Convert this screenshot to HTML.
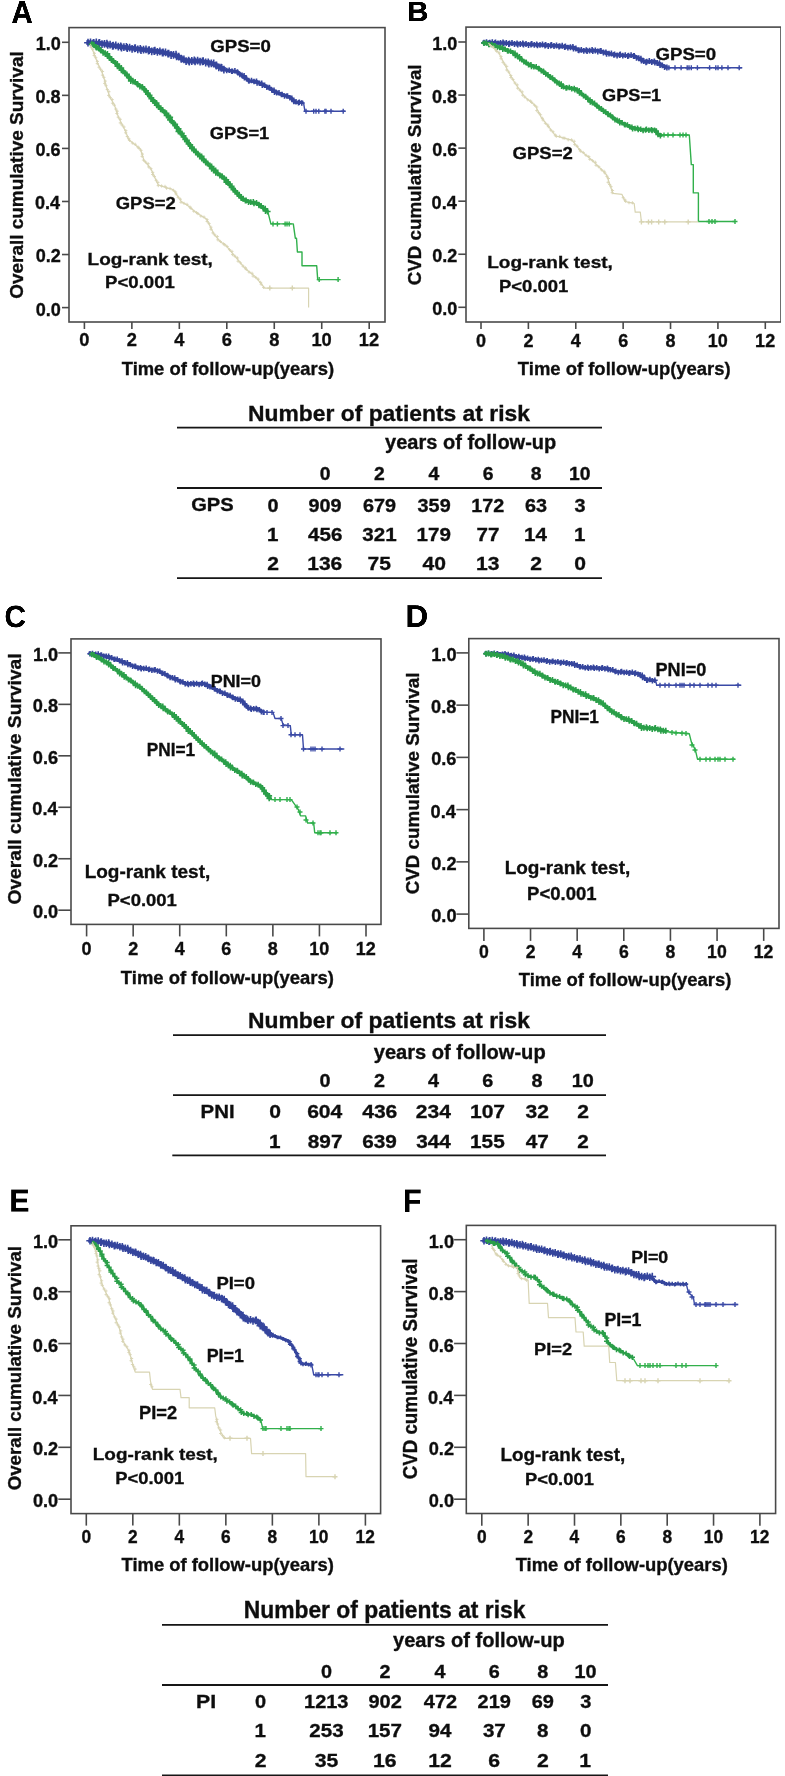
<!DOCTYPE html>
<html><head><meta charset="utf-8"><style>
html,body{margin:0;padding:0;background:#fff;overflow:hidden;}
svg{display:block;will-change:transform;}
text{font-family:"Liberation Sans",sans-serif;}
</style></head><body>
<svg width="785" height="1776" viewBox="0 0 785 1776">
<defs><filter id="soft" x="0" y="0" width="100%" height="100%"><feGaussianBlur stdDeviation="0.5"/></filter></defs>
<rect width="785" height="1776" fill="#fff"/>
<g filter="url(#soft)">
<polyline points="86.3,42.3 100.6,43.3 121.0,46.8 141.3,49.4 161.7,52.0 176.0,55.5 186.2,61.0 200.5,61.0 212.7,63.7 225.0,69.8" fill="none" stroke="#3a4aa6" stroke-width="4.800000000000001" stroke-linejoin="round" stroke-linecap="butt" opacity="1"/>
<path d="M84.1,42.7h7.8M88.0,38.8v7.8M86.6,42.3h7.8M90.5,38.4v7.8M89.1,43.3h7.8M93.0,39.4v7.8M89.9,42.9h7.8M93.8,39.0v7.8M92.4,42.4h7.8M96.3,38.5v7.8M94.9,43.4h7.8M98.8,39.5v7.8M95.6,43.0h7.8M99.5,39.1v7.8M98.1,44.2h7.8M102.0,40.3v7.8M100.6,43.9h7.8M104.5,40.0v7.8M103.0,43.7h7.8M106.9,39.8v7.8M103.8,44.9h7.8M107.7,41.0v7.8M106.2,44.6h7.8M110.1,40.7v7.8M108.7,45.9h7.8M112.6,42.0v7.8M109.4,45.6h7.8M113.3,41.7v7.8M111.9,45.3h7.8M115.8,41.4v7.8M114.4,46.6h7.8M118.3,42.7v7.8M116.8,46.3h7.8M120.7,42.4v7.8M117.6,47.5h7.8M121.5,43.6v7.8M120.0,47.2h7.8M123.9,43.3v7.8M122.5,46.8h7.8M126.4,42.9v7.8M123.3,48.0h7.8M127.2,44.1v7.8M125.7,47.6h7.8M129.6,43.7v7.8M128.2,48.8h7.8M132.1,44.9v7.8M130.7,48.4h7.8M134.6,44.5v7.8M131.4,48.1h7.8M135.3,44.2v7.8M133.9,49.3h7.8M137.8,45.4v7.8M136.4,48.9h7.8M140.3,45.0v7.8M137.1,50.1h7.8M141.0,46.2v7.8M139.6,49.7h7.8M143.5,45.8v7.8M142.1,49.4h7.8M146.0,45.5v7.8M144.6,50.5h7.8M148.5,46.6v7.8M145.3,50.2h7.8M149.2,46.3v7.8M147.8,51.3h7.8M151.7,47.4v7.8M150.3,51.0h7.8M154.2,47.1v7.8M151.0,50.6h7.8M154.9,46.7v7.8M153.5,51.8h7.8M157.4,47.9v7.8M156.0,51.4h7.8M159.9,47.5v7.8M158.5,52.6h7.8M162.4,48.7v7.8M159.2,52.5h7.8M163.1,48.6v7.8M161.6,52.3h7.8M165.5,48.4v7.8M164.1,53.7h7.8M168.0,49.8v7.8M164.8,53.6h7.8M168.7,49.7v7.8M167.2,55.0h7.8M171.1,51.1v7.8M169.6,54.8h7.8M173.5,50.9v7.8M172.1,54.7h7.8M176.0,50.8v7.8M172.7,56.4h7.8M176.6,52.5v7.8M174.9,56.7h7.8M178.8,52.8v7.8M177.2,58.6h7.8M181.1,54.7v7.8M177.7,58.9h7.8M181.6,55.0v7.8M180.0,59.3h7.8M183.9,55.4v7.8M182.2,61.1h7.8M186.1,57.2v7.8M184.7,60.7h7.8M188.6,56.8v7.8M185.4,61.6h7.8M189.3,57.7v7.8M187.9,61.0h7.8M191.8,57.1v7.8M190.4,60.4h7.8M194.3,56.5v7.8M191.2,61.3h7.8M195.1,57.4v7.8M193.7,60.7h7.8M197.6,56.8v7.8M196.2,61.6h7.8M200.1,57.7v7.8M198.6,61.3h7.8M202.5,57.4v7.8M199.3,61.1h7.8M203.2,57.2v7.8M201.8,62.5h7.8M205.7,58.6v7.8M204.3,62.3h7.8M208.2,58.4v7.8M205.0,63.6h7.8M208.9,59.7v7.8M207.4,63.4h7.8M211.3,59.5v7.8M209.8,63.5h7.8M213.7,59.6v7.8M212.1,65.3h7.8M216.0,61.4v7.8M212.6,65.5h7.8M216.5,61.6v7.8M214.9,67.3h7.8M218.8,63.4v7.8M217.2,67.6h7.8M221.1,63.7v7.8M217.8,67.9h7.8M221.7,64.0v7.8M220.0,69.7h7.8M223.9,65.8v7.8" stroke="#34449c" stroke-width="1.6" fill="none"/>
<polyline points="225.0,69.8 237.2,71.8 249.5,81.0 255.6,81.4 265.8,86.1 278.0,93.2 290.2,97.3 295.3,102.4 303.5,102.4" fill="none" stroke="#3a4aa6" stroke-width="3.3600000000000003" stroke-linejoin="round" stroke-linecap="butt" opacity="1"/>
<path d="M224.0,70.4h5.5M226.7,67.7v5.5M226.5,70.1h5.5M229.2,67.4v5.5M228.9,71.4h5.5M231.7,68.6v5.5M229.7,71.1h5.5M232.4,68.4v5.5M232.1,70.8h5.5M234.9,68.1v5.5M234.6,72.0h5.5M237.3,69.3v5.5M235.0,72.5h5.5M237.8,69.8v5.5M237.1,74.6h5.5M239.9,71.8v5.5M239.2,75.2h5.5M242.0,72.4v5.5M241.3,75.8h5.5M244.1,73.0v5.5M241.7,77.9h5.5M244.4,75.1v5.5M243.8,78.5h5.5M246.5,75.7v5.5M245.9,80.6h5.5M248.6,77.8v5.5M246.3,81.0h5.5M249.0,78.3v5.5M248.8,80.5h5.5M251.5,77.8v5.5M251.3,81.6h5.5M254.0,78.8v5.5M253.8,81.2h5.5M256.5,78.4v5.5M254.3,82.9h5.5M257.1,80.2v5.5M256.7,83.1h5.5M259.4,80.4v5.5M259.0,83.4h5.5M261.7,80.6v5.5M259.5,85.1h5.5M262.3,82.4v5.5M261.9,85.4h5.5M264.6,82.6v5.5M264.1,87.2h5.5M266.9,84.4v5.5M266.4,87.6h5.5M269.1,84.8v5.5M266.8,88.0h5.5M269.6,85.3v5.5M269.1,89.9h5.5M271.8,87.2v5.5M271.3,90.3h5.5M274.0,87.6v5.5M271.8,92.2h5.5M274.5,89.5v5.5M274.0,92.6h5.5M276.7,89.9v5.5M276.3,92.9h5.5M279.0,90.1v5.5M278.7,94.4h5.5M281.4,91.7v5.5M279.3,94.4h5.5M282.1,91.7v5.5M281.7,96.0h5.5M284.5,93.2v5.5M284.1,96.0h5.5M286.9,93.3v5.5M284.8,96.0h5.5M287.5,93.3v5.5M287.2,97.6h5.5M289.9,94.9v5.5M289.1,98.4h5.5M291.8,95.6v5.5M291.0,100.7h5.5M293.7,98.0v5.5M291.2,101.5h5.5M293.9,98.8v5.5M293.3,101.8h5.5M296.0,99.1v5.5M295.8,102.7h5.5M298.5,100.0v5.5M296.6,102.1h5.5M299.3,99.4v5.5M299.1,103.0h5.5M301.8,100.3v5.5" stroke="#34449c" stroke-width="1.6" fill="none"/>
<polyline points="303.5,102.4 304.9,111.2 345.3,111.2" fill="none" stroke="#3a4aa6" stroke-width="1.4" stroke-linejoin="round" stroke-linecap="butt" opacity="1"/>
<path d="M303.5,111.2H308.5M306.0,108.7V113.7" stroke="#3a4aa6" stroke-width="1.4" fill="none"/>
<path d="M311.2,111.2H316.2M313.7,108.7V113.7" stroke="#3a4aa6" stroke-width="1.4" fill="none"/>
<path d="M313.5,111.2H318.5M316.0,108.7V113.7" stroke="#3a4aa6" stroke-width="1.4" fill="none"/>
<path d="M316.3,111.2H321.3M318.8,108.7V113.7" stroke="#3a4aa6" stroke-width="1.4" fill="none"/>
<path d="M322.4,111.2H327.4M324.9,108.7V113.7" stroke="#3a4aa6" stroke-width="1.4" fill="none"/>
<path d="M323.5,111.2H328.5M326.0,108.7V113.7" stroke="#3a4aa6" stroke-width="1.4" fill="none"/>
<path d="M328.5,111.2H333.5M331.0,108.7V113.7" stroke="#3a4aa6" stroke-width="1.4" fill="none"/>
<path d="M340.7,111.2H345.7M343.2,108.7V113.7" stroke="#3a4aa6" stroke-width="1.4" fill="none"/>
<polyline points="90.4,42.7 106.7,54.5 123.0,70.8 131.1,80.0 143.4,88.1 155.6,103.4 167.8,115.6 180.1,132.0 192.3,148.3 204.5,160.5 216.8,172.7 225.0,179.1 235.2,191.3 243.3,199.5 251.5,202.5 257.6,203.5 267.8,211.7" fill="none" stroke="#30b04c" stroke-width="3.6" stroke-linejoin="round" stroke-linecap="butt" opacity="1"/>
<path d="M88.8,44.2h5.9M91.8,41.2v5.9M91.0,44.7h5.9M93.9,41.8v5.9M93.1,46.8h5.9M96.0,43.9v5.9M93.5,47.4h5.9M96.4,44.5v5.9M95.6,48.0h5.9M98.5,45.0v5.9M97.7,50.0h5.9M100.6,47.1v5.9M98.1,50.6h5.9M101.0,47.7v5.9M100.2,52.7h5.9M103.1,49.8v5.9M102.3,53.3h5.9M105.2,50.3v5.9M104.4,53.8h5.9M107.4,50.9v5.9M104.6,56.1h5.9M107.5,53.2v5.9M106.5,56.9h5.9M109.4,54.0v5.9M108.4,59.3h5.9M111.4,56.3v5.9M108.6,60.1h5.9M111.5,57.1v5.9M110.5,60.9h5.9M113.4,58.0v5.9M112.4,63.2h5.9M115.3,60.3v5.9M114.3,64.0h5.9M117.3,61.1v5.9M114.5,66.3h5.9M117.4,63.4v5.9M116.4,67.1h5.9M119.3,64.2v5.9M118.3,68.0h5.9M121.3,65.0v5.9M118.5,70.3h5.9M121.4,67.3v5.9M120.4,71.1h5.9M123.3,68.2v5.9M122.2,73.5h5.9M125.1,70.6v5.9M124.0,74.4h5.9M126.9,71.5v5.9M124.1,75.3h5.9M127.0,72.4v5.9M125.9,77.7h5.9M128.8,74.8v5.9M127.7,78.6h5.9M130.7,75.7v5.9M127.9,80.9h5.9M130.8,78.0v5.9M130.1,81.4h5.9M133.0,78.5v5.9M132.2,81.9h5.9M135.2,79.0v5.9M134.4,83.9h5.9M137.3,81.0v5.9M134.8,84.4h5.9M137.8,81.5v5.9M137.0,86.4h5.9M139.9,83.5v5.9M139.2,86.9h5.9M142.1,84.0v5.9M139.6,87.4h5.9M142.5,84.5v5.9M141.4,89.8h5.9M144.3,86.9v5.9M143.1,90.8h5.9M146.0,87.9v5.9M144.9,93.3h5.9M147.8,90.3v5.9M144.9,94.2h5.9M147.8,91.3v5.9M146.6,95.2h5.9M149.5,92.3v5.9M148.4,97.7h5.9M151.3,94.7v5.9M148.4,98.6h5.9M151.3,95.7v5.9M150.1,101.1h5.9M153.0,98.2v5.9M151.8,102.0h5.9M154.8,99.1v5.9M153.6,103.0h5.9M156.5,100.1v5.9M153.8,105.3h5.9M156.7,102.4v5.9M155.7,106.1h5.9M158.6,103.2v5.9M157.6,108.4h5.9M160.5,105.5v5.9M157.8,109.2h5.9M160.7,106.3v5.9M159.7,110.1h5.9M162.6,107.1v5.9M161.6,112.4h5.9M164.5,109.5v5.9M163.5,113.2h5.9M166.4,110.3v5.9M163.7,115.5h5.9M166.6,112.6v5.9M165.5,116.4h5.9M168.4,113.5v5.9M167.2,117.4h5.9M170.1,114.5v5.9M167.1,119.9h5.9M170.1,117.0v5.9M168.8,120.9h5.9M171.8,118.0v5.9M170.5,123.4h5.9M173.5,120.5v5.9M172.2,124.4h5.9M175.2,121.5v5.9M172.2,125.4h5.9M175.1,122.5v5.9M173.9,127.9h5.9M176.8,125.0v5.9M175.6,128.9h5.9M178.5,126.0v5.9M175.5,131.4h5.9M178.5,128.5v5.9M177.2,132.4h5.9M180.2,129.5v5.9M178.9,133.4h5.9M181.9,130.5v5.9M180.6,135.9h5.9M183.6,133.0v5.9M180.6,136.9h5.9M183.5,134.0v5.9M182.3,139.4h5.9M185.2,136.5v5.9M184.0,140.4h5.9M186.9,137.5v5.9M183.9,141.4h5.9M186.9,138.5v5.9M185.6,143.9h5.9M188.5,141.0v5.9M187.3,144.9h5.9M190.2,142.0v5.9M189.0,147.4h5.9M191.9,144.5v5.9M189.0,148.4h5.9M191.9,145.5v5.9M190.9,149.2h5.9M193.8,146.3v5.9M192.8,151.5h5.9M195.7,148.6v5.9M193.0,152.4h5.9M195.9,149.4v5.9M194.9,154.7h5.9M197.8,151.7v5.9M196.8,155.5h5.9M199.7,152.6v5.9M198.7,156.3h5.9M201.6,153.4v5.9M198.9,158.6h5.9M201.8,155.7v5.9M200.8,159.4h5.9M203.7,156.5v5.9M202.7,161.7h5.9M205.6,158.8v5.9M202.9,162.5h5.9M205.8,159.6v5.9M204.8,163.4h5.9M207.7,160.4v5.9M206.7,165.7h5.9M209.7,162.7v5.9M208.6,166.5h5.9M211.6,163.5v5.9M208.8,168.8h5.9M211.7,165.9v5.9M210.7,169.6h5.9M213.7,166.7v5.9M212.7,170.4h5.9M215.6,167.5v5.9M212.8,172.7h5.9M215.8,169.8v5.9M214.9,173.4h5.9M217.8,170.4v5.9M216.9,175.5h5.9M219.9,172.6v5.9M219.0,176.1h5.9M221.9,173.2v5.9M219.4,176.8h5.9M222.3,173.8v5.9M221.4,178.9h5.9M224.4,176.0v5.9M223.3,179.7h5.9M226.3,176.8v5.9M223.4,182.1h5.9M226.3,179.2v5.9M225.1,183.1h5.9M228.1,180.1v5.9M226.9,184.0h5.9M229.9,181.1v5.9M228.7,186.4h5.9M231.6,183.5v5.9M228.7,187.4h5.9M231.7,184.5v5.9M230.5,189.8h5.9M233.5,186.9v5.9M232.3,190.7h5.9M235.2,187.8v5.9M232.4,191.6h5.9M235.3,188.7v5.9M234.3,193.9h5.9M237.3,191.0v5.9M236.2,194.8h5.9M239.2,191.8v5.9M238.1,197.1h5.9M241.1,194.2v5.9M238.3,197.9h5.9M241.2,195.0v5.9M240.2,198.7h5.9M243.1,195.8v5.9M242.5,200.4h5.9M245.4,197.5v5.9M243.1,200.5h5.9M246.1,197.6v5.9M245.5,202.1h5.9M248.5,199.2v5.9M247.9,202.2h5.9M250.8,199.2v5.9M250.3,202.1h5.9M253.3,199.1v5.9M251.1,203.3h5.9M254.0,200.4v5.9M253.5,203.0h5.9M256.5,200.1v5.9M255.8,204.6h5.9M258.8,201.7v5.9M256.1,205.3h5.9M259.1,202.4v5.9M258.2,205.9h5.9M261.1,203.0v5.9M260.3,208.1h5.9M263.2,205.2v5.9M262.3,208.7h5.9M265.2,205.8v5.9M262.6,210.9h5.9M265.5,208.0v5.9M264.7,211.5h5.9M267.6,208.6v5.9" stroke="#2a9e48" stroke-width="1.6" fill="none"/>
<polyline points="267.8,211.7 270.9,223.9 293.3,223.9 295.3,238.2 296.5,238.2 297.4,252.0 302.0,252.0 302.0,265.7 316.7,265.7 317.7,279.6 339.1,279.6" fill="none" stroke="#30b04c" stroke-width="1.4" stroke-linejoin="round" stroke-linecap="butt" opacity="1"/>
<path d="M270.5,223.9H275.5M273.0,221.4V226.4" stroke="#30b04c" stroke-width="1.4" fill="none"/>
<path d="M274.9,223.9H279.9M277.4,221.4V226.4" stroke="#30b04c" stroke-width="1.4" fill="none"/>
<path d="M282.6,223.9H287.6M285.1,221.4V226.4" stroke="#30b04c" stroke-width="1.4" fill="none"/>
<path d="M284.5,223.9H289.5M287.0,221.4V226.4" stroke="#30b04c" stroke-width="1.4" fill="none"/>
<path d="M286.7,223.9H291.7M289.2,221.4V226.4" stroke="#30b04c" stroke-width="1.4" fill="none"/>
<path d="M316.7,279.6H321.7M319.2,277.1V282.1" stroke="#30b04c" stroke-width="1.4" fill="none"/>
<path d="M335.6,279.6H340.6M338.1,277.1V282.1" stroke="#30b04c" stroke-width="1.4" fill="none"/>
<polyline points="90.4,44.3 98.1,64.1 103.2,75.3 107.2,89.6 110.3,97.7 114.4,104.9 118.4,117.1 122.5,125.2 125.6,131.4 128.6,139.5 140.3,149.0 144.1,160.5 150.5,168.1 158.1,184.7 163.2,186.6 173.4,189.8 181.0,201.2 188.7,206.3 196.3,212.7 206.5,219.1 214.2,234.4 220.8,242.3 225.0,244.3 235.2,256.5 245.4,268.8 255.6,276.9 264.7,288.1 308.6,288.1 308.6,307.5" fill="none" stroke="#d8d4b2" stroke-width="1.2" stroke-linejoin="round" stroke-linecap="butt" opacity="1"/>
<path d="M89.6,47.4h3.2M91.2,45.8v3.2M91.2,49.6h3.2M92.8,48.0v3.2M92.8,53.3h3.2M94.4,51.7v3.2M92.6,55.5h3.2M94.2,53.9v3.2M94.2,57.7h3.2M95.8,56.1v3.2M95.8,61.4h3.2M97.4,59.8v3.2M95.7,63.6h3.2M97.3,62.0v3.2M97.4,67.2h3.2M99.0,65.6v3.2M99.1,69.3h3.2M100.7,67.7v3.2M100.9,71.5h3.2M102.5,69.9v3.2M100.9,75.1h3.2M102.5,73.5v3.2M102.3,77.4h3.2M103.9,75.8v3.2M103.6,81.1h3.2M105.2,79.5v3.2M103.1,83.4h3.2M104.7,81.8v3.2M104.4,85.7h3.2M106.0,84.1v3.2M105.7,89.5h3.2M107.3,87.9v3.2M107.3,91.7h3.2M108.9,90.1v3.2M107.1,95.4h3.2M108.7,93.8v3.2M108.7,97.6h3.2M110.3,96.0v3.2M110.6,99.6h3.2M112.2,98.0v3.2M110.9,103.2h3.2M112.5,101.6v3.2M112.7,105.2h3.2M114.3,103.6v3.2M114.2,109.0h3.2M115.8,107.4v3.2M115.6,111.2h3.2M117.2,109.6v3.2M115.3,113.5h3.2M116.9,111.9v3.2M116.7,117.2h3.2M118.3,115.6v3.2M118.6,119.3h3.2M120.2,117.7v3.2M118.7,122.9h3.2M120.3,121.3v3.2M120.5,125.0h3.2M122.1,123.4v3.2M122.4,127.0h3.2M124.0,125.4v3.2M124.2,130.6h3.2M125.8,129.0v3.2M124.1,132.8h3.2M125.7,131.2v3.2M125.7,136.5h3.2M127.3,134.9v3.2M127.2,138.7h3.2M128.8,137.1v3.2M127.9,140.3h3.2M129.5,138.7v3.2M130.8,143.0h3.2M132.4,141.4v3.2M133.6,144.3h3.2M135.2,142.7v3.2M136.4,147.1h3.2M138.0,145.5v3.2M137.5,148.4h3.2M139.1,146.8v3.2M139.4,150.4h3.2M141.0,148.8v3.2M140.8,154.1h3.2M142.4,152.5v3.2M140.5,156.4h3.2M142.1,154.8v3.2M141.9,160.1h3.2M143.5,158.5v3.2M144.0,162.0h3.2M145.6,160.4v3.2M146.5,163.7h3.2M148.1,162.1v3.2M147.1,166.9h3.2M148.7,165.3v3.2M149.3,168.7h3.2M150.9,167.1v3.2M151.1,172.4h3.2M152.7,170.8v3.2M151.1,174.5h3.2M152.7,172.9v3.2M152.8,176.6h3.2M154.4,175.0v3.2M154.6,180.3h3.2M156.2,178.7v3.2M156.3,182.4h3.2M157.9,180.8v3.2M156.7,185.6h3.2M158.3,184.0v3.2M160.0,186.0h3.2M161.6,184.4v3.2M163.4,186.4h3.2M165.0,184.8v3.2M165.0,188.2h3.2M166.6,186.6v3.2M168.4,188.5h3.2M170.0,186.9v3.2M171.7,190.3h3.2M173.3,188.7v3.2M174.0,192.0h3.2M175.6,190.4v3.2M174.4,193.9h3.2M176.0,192.3v3.2M176.6,197.3h3.2M178.2,195.7v3.2M178.8,199.2h3.2M180.4,197.6v3.2M179.4,202.3h3.2M181.0,200.7v3.2M182.4,203.4h3.2M184.0,201.8v3.2M185.4,204.4h3.2M187.0,202.8v3.2M188.4,207.1h3.2M190.0,205.5v3.2M189.4,208.4h3.2M191.0,206.8v3.2M192.2,211.2h3.2M193.8,209.6v3.2M195.0,212.6h3.2M196.6,211.0v3.2M196.3,213.6h3.2M197.9,212.0v3.2M199.3,216.1h3.2M200.9,214.5v3.2M202.4,217.1h3.2M204.0,215.5v3.2M205.4,219.6h3.2M207.0,218.0v3.2M205.6,221.5h3.2M207.2,219.9v3.2M207.5,223.6h3.2M209.1,222.0v3.2M209.3,227.2h3.2M210.9,225.6v3.2M209.4,229.3h3.2M211.0,227.7v3.2M211.3,232.9h3.2M212.9,231.3v3.2M213.2,234.9h3.2M214.8,233.3v3.2M215.7,236.6h3.2M217.3,235.0v3.2M216.3,239.8h3.2M217.9,238.2v3.2M218.8,241.5h3.2M220.4,239.9v3.2M221.8,243.9h3.2M223.4,242.3v3.2M223.1,244.8h3.2M224.7,243.2v3.2M225.5,246.5h3.2M227.1,244.9v3.2M227.9,249.7h3.2M229.5,248.1v3.2M230.3,251.4h3.2M231.9,249.8v3.2M231.0,254.6h3.2M232.6,253.0v3.2M233.4,256.3h3.2M235.0,254.7v3.2M235.9,258.0h3.2M237.5,256.4v3.2M236.5,261.2h3.2M238.1,259.6v3.2M238.9,262.9h3.2M240.5,261.3v3.2M241.4,266.1h3.2M243.0,264.5v3.2M243.8,267.9h3.2M245.4,266.3v3.2M244.7,269.3h3.2M246.3,267.7v3.2M247.5,272.1h3.2M249.1,270.5v3.2M250.4,273.3h3.2M252.0,271.7v3.2M251.5,276.1h3.2M253.1,274.5v3.2M254.2,277.5h3.2M255.8,275.9v3.2M256.6,279.2h3.2M258.2,277.6v3.2M259.0,282.4h3.2M260.6,280.8v3.2M259.6,284.2h3.2M261.2,282.6v3.2M262.0,287.4h3.2M263.6,285.8v3.2" stroke="#d8d4b2" stroke-width="0.9" fill="none"/>
<path d="M267.3,288.1H272.3M269.8,285.6V290.6" stroke="#d8d4b2" stroke-width="1.4" fill="none"/>
<path d="M289.8,288.1H294.8M292.3,285.6V290.6" stroke="#d8d4b2" stroke-width="1.4" fill="none"/>
<rect x="69.00" y="27.60" width="316.00" height="294.40" fill="none" stroke="#4a4a4a" stroke-width="1.6"/>
<line x1="84.40" y1="322.00" x2="84.40" y2="329.00" stroke="#4a4a4a" stroke-width="1.6"/>
<text transform="translate(79.32,346.20) scale(0.18291,0.18857)" font-size="100" font-weight="bold" fill="#111" stroke="#111" stroke-width="1.88">0</text>
<line x1="131.87" y1="322.00" x2="131.87" y2="329.00" stroke="#4a4a4a" stroke-width="1.6"/>
<text transform="translate(126.84,346.20) scale(0.18291,0.18857)" font-size="100" font-weight="bold" fill="#111" stroke="#111" stroke-width="1.88">2</text>
<line x1="179.33" y1="322.00" x2="179.33" y2="329.00" stroke="#4a4a4a" stroke-width="1.6"/>
<text transform="translate(174.17,346.20) scale(0.18291,0.18857)" font-size="100" font-weight="bold" fill="#111" stroke="#111" stroke-width="1.88">4</text>
<line x1="226.80" y1="322.00" x2="226.80" y2="329.00" stroke="#4a4a4a" stroke-width="1.6"/>
<text transform="translate(221.72,346.20) scale(0.18291,0.18857)" font-size="100" font-weight="bold" fill="#111" stroke="#111" stroke-width="1.88">6</text>
<line x1="274.27" y1="322.00" x2="274.27" y2="329.00" stroke="#4a4a4a" stroke-width="1.6"/>
<text transform="translate(269.19,346.20) scale(0.18291,0.18857)" font-size="100" font-weight="bold" fill="#111" stroke="#111" stroke-width="1.88">8</text>
<line x1="321.73" y1="322.00" x2="321.73" y2="329.00" stroke="#4a4a4a" stroke-width="1.6"/>
<text transform="translate(311.40,346.20) scale(0.18291,0.18857)" font-size="100" font-weight="bold" fill="#111" stroke="#111" stroke-width="1.88">10</text>
<line x1="369.20" y1="322.00" x2="369.20" y2="329.00" stroke="#4a4a4a" stroke-width="1.6"/>
<text transform="translate(358.87,346.20) scale(0.18291,0.18857)" font-size="100" font-weight="bold" fill="#111" stroke="#111" stroke-width="1.88">12</text>
<line x1="62.00" y1="307.60" x2="69.00" y2="307.60" stroke="#4a4a4a" stroke-width="1.6"/>
<text transform="translate(35.63,315.55) scale(0.18050,0.19000)" font-size="100" font-weight="bold" fill="#111" stroke="#111" stroke-width="1.89">0.0</text>
<line x1="62.00" y1="254.54" x2="69.00" y2="254.54" stroke="#4a4a4a" stroke-width="1.6"/>
<text transform="translate(35.63,262.49) scale(0.18050,0.19000)" font-size="100" font-weight="bold" fill="#111" stroke="#111" stroke-width="1.89">0.2</text>
<line x1="62.00" y1="201.48" x2="69.00" y2="201.48" stroke="#4a4a4a" stroke-width="1.6"/>
<text transform="translate(35.00,209.43) scale(0.18050,0.19000)" font-size="100" font-weight="bold" fill="#111" stroke="#111" stroke-width="1.89">0.4</text>
<line x1="62.00" y1="148.42" x2="69.00" y2="148.42" stroke="#4a4a4a" stroke-width="1.6"/>
<text transform="translate(35.54,156.37) scale(0.18050,0.19000)" font-size="100" font-weight="bold" fill="#111" stroke="#111" stroke-width="1.89">0.6</text>
<line x1="62.00" y1="95.36" x2="69.00" y2="95.36" stroke="#4a4a4a" stroke-width="1.6"/>
<text transform="translate(35.45,103.31) scale(0.18050,0.19000)" font-size="100" font-weight="bold" fill="#111" stroke="#111" stroke-width="1.89">0.8</text>
<line x1="62.00" y1="42.30" x2="69.00" y2="42.30" stroke="#4a4a4a" stroke-width="1.6"/>
<text transform="translate(35.63,50.25) scale(0.18050,0.19000)" font-size="100" font-weight="bold" fill="#111" stroke="#111" stroke-width="1.89">1.0</text>
<text transform="translate(23.40,298.76) rotate(-90) scale(0.18950,0.18207)" font-size="100" font-weight="bold" fill="#111" stroke="#111" stroke-width="1.88">Overall cumulative Survival</text>
<text transform="translate(121.72,374.60) scale(0.18423,0.18143)" font-size="100" font-weight="bold" fill="#111" stroke="#111" stroke-width="1.91">Time of follow-up(years)</text>
<text transform="translate(11.36,23.30) scale(0.29701,0.31594)" font-size="100" font-weight="bold" fill="#000" stroke="#000" stroke-width="1.14">A</text>
<text transform="translate(210.25,51.90) scale(0.18644,0.16714)" font-size="100" font-weight="bold" fill="#111" stroke="#111" stroke-width="1.98">GPS=0</text>
<text transform="translate(209.87,139.00) scale(0.18273,0.16429)" font-size="100" font-weight="bold" fill="#111" stroke="#111" stroke-width="2.02">GPS=1</text>
<text transform="translate(115.76,209.20) scale(0.18454,0.17429)" font-size="100" font-weight="bold" fill="#111" stroke="#111" stroke-width="1.95">GPS=2</text>
<text transform="translate(87.57,264.70) scale(0.18966,0.16957)" font-size="100" font-weight="bold" fill="#111" stroke="#111" stroke-width="1.95">Log-rank test,</text>
<text transform="translate(105.09,288.10) scale(0.18607,0.16812)" font-size="100" font-weight="bold" fill="#111" stroke="#111" stroke-width="1.98">P&lt;0.001</text>
<polyline points="482.3,42.3 506.8,43.3 537.3,44.7 557.7,45.9 572.0,47.4 580.1,50.4 598.5,50.8 612.8,54.5 626.0,55.5 634.2,55.8 644.4,61.6 654.6,61.6 666.8,67.7" fill="none" stroke="#3a4aa6" stroke-width="3.6" stroke-linejoin="round" stroke-linecap="butt" opacity="1"/>
<path d="M481.1,42.7h5.9M484.0,39.8v5.9M483.6,42.2h5.9M486.5,39.2v5.9M486.1,43.1h5.9M489.0,40.2v5.9M486.9,42.6h5.9M489.8,39.7v5.9M489.4,42.1h5.9M492.3,39.2v5.9M491.9,43.1h5.9M494.8,40.2v5.9M492.6,42.6h5.9M495.5,39.6v5.9M495.1,43.6h5.9M498.0,40.6v5.9M497.6,43.0h5.9M500.5,40.1v5.9M500.1,42.5h5.9M503.0,39.6v5.9M500.9,43.5h5.9M503.8,40.6v5.9M503.4,43.0h5.9M506.3,40.1v5.9M505.9,44.0h5.9M508.8,41.0v5.9M506.6,43.5h5.9M509.5,40.5v5.9M509.1,43.0h5.9M512.0,40.0v5.9M511.6,43.9h5.9M514.5,41.0v5.9M514.1,43.4h5.9M517.0,40.5v5.9M514.8,44.4h5.9M517.8,41.5v5.9M517.3,43.9h5.9M520.3,41.0v5.9M519.8,43.4h5.9M522.8,40.5v5.9M520.6,44.4h5.9M523.5,41.5v5.9M523.1,43.9h5.9M526.0,41.0v5.9M525.6,44.9h5.9M528.5,42.0v5.9M528.1,44.4h5.9M531.0,41.5v5.9M528.8,43.9h5.9M531.8,40.9v5.9M531.3,44.9h5.9M534.3,41.9v5.9M533.8,44.4h5.9M536.7,41.4v5.9M534.6,45.4h5.9M537.5,42.4v5.9M537.1,44.9h5.9M540.0,41.9v5.9M539.6,44.4h5.9M542.5,41.5v5.9M542.1,45.4h5.9M545.0,42.5v5.9M542.8,44.9h5.9M545.7,42.0v5.9M545.3,45.9h5.9M548.2,43.0v5.9M547.8,45.5h5.9M550.7,42.5v5.9M548.5,45.0h5.9M551.5,42.1v5.9M551.0,46.0h5.9M554.0,43.1v5.9M553.5,45.5h5.9M556.5,42.6v5.9M556.0,46.6h5.9M559.0,43.6v5.9M556.8,46.2h5.9M559.7,43.2v5.9M559.3,45.8h5.9M562.2,42.8v5.9M561.8,46.9h5.9M564.7,44.0v5.9M562.5,46.5h5.9M565.4,43.6v5.9M565.0,47.6h5.9M567.9,44.7v5.9M567.5,47.2h5.9M570.4,44.3v5.9M570.0,46.8h5.9M572.9,43.9v5.9M570.6,48.4h5.9M573.5,45.5v5.9M573.0,48.5h5.9M575.9,45.6v5.9M575.3,50.1h5.9M578.3,47.2v5.9M576.0,50.2h5.9M578.9,47.3v5.9M578.4,49.8h5.9M581.3,46.9v5.9M580.9,50.8h5.9M583.8,47.9v5.9M583.4,50.2h5.9M586.3,47.3v5.9M584.2,51.2h5.9M587.1,48.2v5.9M586.7,50.6h5.9M589.6,47.7v5.9M589.2,50.0h5.9M592.1,47.1v5.9M589.9,51.0h5.9M592.8,48.1v5.9M592.4,50.4h5.9M595.3,47.5v5.9M594.9,51.4h5.9M597.8,48.5v5.9M597.4,51.1h5.9M600.3,48.1v5.9M598.1,51.0h5.9M601.0,48.0v5.9M600.5,52.4h5.9M603.4,49.5v5.9M602.9,52.3h5.9M605.9,49.4v5.9M603.6,53.7h5.9M606.6,50.8v5.9M606.1,53.6h5.9M609.0,50.7v5.9M608.5,53.5h5.9M611.4,50.6v5.9M610.9,54.8h5.9M613.9,51.9v5.9M611.7,54.4h5.9M614.6,51.5v5.9M614.2,55.4h5.9M617.1,52.5v5.9M616.7,55.0h5.9M619.6,52.1v5.9M617.4,54.5h5.9M620.3,51.6v5.9M619.9,55.6h5.9M622.8,52.7v5.9M622.4,55.1h5.9M625.3,52.2v5.9M624.9,56.1h5.9M627.8,53.2v5.9M625.7,55.6h5.9M628.6,52.7v5.9M628.2,55.1h5.9M631.1,52.2v5.9M630.7,56.1h5.9M633.6,53.1v5.9M631.3,55.9h5.9M634.2,53.0v5.9M633.5,57.8h5.9M636.5,54.9v5.9M635.8,58.2h5.9M638.7,55.3v5.9M638.0,58.6h5.9M640.9,55.7v5.9M638.5,60.5h5.9M641.4,57.6v5.9M640.7,60.9h5.9M643.7,58.0v5.9M643.1,62.2h5.9M646.0,59.3v5.9M643.9,61.6h5.9M646.8,58.7v5.9M646.4,61.0h5.9M649.3,58.1v5.9M648.9,61.9h5.9M651.8,59.0v5.9M651.4,61.3h5.9M654.3,58.4v5.9M652.0,62.6h5.9M654.9,59.7v5.9M654.3,62.9h5.9M657.2,60.0v5.9M656.6,63.2h5.9M659.5,60.3v5.9M657.1,65.0h5.9M660.1,62.1v5.9M659.4,65.3h5.9M662.3,62.4v5.9M661.7,67.1h5.9M664.6,64.2v5.9M664.0,67.4h5.9M666.9,64.5v5.9" stroke="#34449c" stroke-width="1.6" fill="none"/>
<polyline points="666.8,67.7 742.3,67.7" fill="none" stroke="#3a4aa6" stroke-width="1.4" stroke-linejoin="round" stroke-linecap="butt" opacity="1"/>
<path d="M666.4,67.7H671.4M668.9,65.2V70.2" stroke="#3a4aa6" stroke-width="1.4" fill="none"/>
<path d="M672.5,67.7H677.5M675.0,65.2V70.2" stroke="#3a4aa6" stroke-width="1.4" fill="none"/>
<path d="M678.6,67.7H683.6M681.1,65.2V70.2" stroke="#3a4aa6" stroke-width="1.4" fill="none"/>
<path d="M684.7,67.7H689.7M687.2,65.2V70.2" stroke="#3a4aa6" stroke-width="1.4" fill="none"/>
<path d="M686.5,67.7H691.5M689.0,65.2V70.2" stroke="#3a4aa6" stroke-width="1.4" fill="none"/>
<path d="M688.8,67.7H693.8M691.3,65.2V70.2" stroke="#3a4aa6" stroke-width="1.4" fill="none"/>
<path d="M694.9,67.7H699.9M697.4,65.2V70.2" stroke="#3a4aa6" stroke-width="1.4" fill="none"/>
<path d="M707.1,67.7H712.1M709.6,65.2V70.2" stroke="#3a4aa6" stroke-width="1.4" fill="none"/>
<path d="M713.3,67.7H718.3M715.8,65.2V70.2" stroke="#3a4aa6" stroke-width="1.4" fill="none"/>
<path d="M715.5,67.7H720.5M718.0,65.2V70.2" stroke="#3a4aa6" stroke-width="1.4" fill="none"/>
<path d="M719.4,67.7H724.4M721.9,65.2V70.2" stroke="#3a4aa6" stroke-width="1.4" fill="none"/>
<path d="M725.5,67.7H730.5M728.0,65.2V70.2" stroke="#3a4aa6" stroke-width="1.4" fill="none"/>
<path d="M736.7,67.7H741.7M739.2,65.2V70.2" stroke="#3a4aa6" stroke-width="1.4" fill="none"/>
<polyline points="482.3,42.3 496.6,46.3 512.9,52.5 527.1,63.7 539.4,68.8 551.6,77.9 563.8,87.1 576.1,89.2 588.3,99.3 604.6,111.6 618.9,121.8 626.0,124.8 632.2,127.9 642.4,129.9 654.6,129.9 658.7,135.0 662.0,135.0" fill="none" stroke="#30b04c" stroke-width="3.3600000000000003" stroke-linejoin="round" stroke-linecap="butt" opacity="1"/>
<path d="M481.2,43.1h5.5M484.0,40.4v5.5M483.7,43.1h5.5M486.4,40.3v5.5M486.1,44.5h5.5M488.8,41.8v5.5M486.8,44.5h5.5M489.5,41.7v5.5M489.2,44.4h5.5M491.9,41.7v5.5M491.6,45.8h5.5M494.4,43.1v5.5M492.3,45.8h5.5M495.0,43.0v5.5M494.7,47.3h5.5M497.4,44.6v5.5M497.1,47.4h5.5M499.8,44.7v5.5M499.4,47.5h5.5M502.2,44.8v5.5M500.1,49.1h5.5M502.8,46.4v5.5M502.4,49.3h5.5M505.2,46.5v5.5M504.8,50.9h5.5M507.5,48.1v5.5M505.4,51.0h5.5M508.1,48.2v5.5M507.8,51.1h5.5M510.5,48.4v5.5M510.2,52.7h5.5M512.9,50.0v5.5M512.3,53.3h5.5M515.0,50.5v5.5M512.6,55.4h5.5M515.3,52.7v5.5M514.7,56.0h5.5M517.4,53.3v5.5M516.7,56.7h5.5M519.5,53.9v5.5M517.0,58.8h5.5M519.8,56.1v5.5M519.1,59.5h5.5M521.8,56.7v5.5M521.2,61.6h5.5M523.9,58.9v5.5M523.3,62.2h5.5M526.0,59.5v5.5M523.6,62.9h5.5M526.3,60.1v5.5M525.9,64.6h5.5M528.6,61.9v5.5M528.2,64.8h5.5M530.9,62.1v5.5M528.8,66.5h5.5M531.5,63.7v5.5M531.2,66.6h5.5M533.9,63.9v5.5M533.5,66.8h5.5M536.2,64.1v5.5M535.9,68.5h5.5M538.6,65.7v5.5M536.4,68.7h5.5M539.1,66.0v5.5M538.5,70.8h5.5M541.3,68.1v5.5M540.6,71.4h5.5M543.4,68.6v5.5M541.0,72.0h5.5M543.7,69.2v5.5M543.1,74.1h5.5M545.8,71.3v5.5M545.2,74.7h5.5M547.9,71.9v5.5M547.3,76.8h5.5M550.0,74.0v5.5M547.6,77.4h5.5M550.4,74.6v5.5M549.7,78.0h5.5M552.5,75.2v5.5M551.8,80.1h5.5M554.6,77.3v5.5M552.2,80.7h5.5M554.9,77.9v5.5M554.3,82.8h5.5M557.0,80.0v5.5M556.4,83.4h5.5M559.1,80.6v5.5M558.5,84.0h5.5M561.2,81.2v5.5M558.8,86.1h5.5M561.6,83.4v5.5M560.9,86.7h5.5M563.6,84.0v5.5M563.4,88.0h5.5M566.1,85.3v5.5M564.1,87.7h5.5M566.8,85.0v5.5M566.5,87.5h5.5M569.3,84.7v5.5M569.0,88.7h5.5M571.7,86.0v5.5M571.5,88.5h5.5M574.2,85.7v5.5M572.2,89.7h5.5M574.9,87.0v5.5M574.4,90.1h5.5M577.1,87.3v5.5M576.4,90.7h5.5M579.2,88.0v5.5M576.7,92.9h5.5M579.5,90.2v5.5M578.8,93.6h5.5M581.5,90.8v5.5M580.8,95.8h5.5M583.5,93.0v5.5M582.8,96.4h5.5M585.6,93.7v5.5M583.1,97.1h5.5M585.9,94.4v5.5M585.2,99.3h5.5M587.9,96.5v5.5M587.3,99.9h5.5M590.0,97.2v5.5M587.6,102.0h5.5M590.3,99.3v5.5M589.7,102.6h5.5M592.4,99.9v5.5M591.8,103.2h5.5M594.5,100.5v5.5M593.9,105.3h5.5M596.6,102.6v5.5M594.2,105.9h5.5M597.0,103.2v5.5M596.3,108.0h5.5M599.1,105.3v5.5M598.4,108.6h5.5M601.2,105.9v5.5M598.8,109.2h5.5M601.5,106.5v5.5M600.9,111.3h5.5M603.6,108.6v5.5M603.0,111.9h5.5M605.7,109.2v5.5M605.1,114.0h5.5M607.9,111.3v5.5M605.5,114.5h5.5M608.2,111.8v5.5M607.6,115.1h5.5M610.4,112.4v5.5M609.8,117.2h5.5M612.5,114.4v5.5M610.1,117.7h5.5M612.9,115.0v5.5M612.3,119.8h5.5M615.0,117.1v5.5M614.4,120.4h5.5M617.1,117.6v5.5M616.5,120.9h5.5M619.3,118.2v5.5M617.1,122.7h5.5M619.8,120.0v5.5M619.4,122.9h5.5M622.1,120.1v5.5M621.7,124.5h5.5M624.5,121.8v5.5M622.3,124.7h5.5M625.1,122.0v5.5M624.6,125.0h5.5M627.4,122.3v5.5M626.9,126.8h5.5M629.7,124.1v5.5M629.2,127.1h5.5M631.9,124.4v5.5M629.8,128.7h5.5M632.6,125.9v5.5M632.3,128.5h5.5M635.0,125.7v5.5M634.7,128.2h5.5M637.5,125.5v5.5M635.5,129.5h5.5M638.2,126.8v5.5M637.9,129.3h5.5M640.7,126.6v5.5M640.4,130.5h5.5M643.1,127.8v5.5M642.9,129.9h5.5M645.6,127.2v5.5M643.6,129.3h5.5M646.4,126.6v5.5M646.1,130.2h5.5M648.9,127.5v5.5M648.6,129.6h5.5M651.4,126.9v5.5M649.4,130.5h5.5M652.1,127.8v5.5M651.8,130.1h5.5M654.5,127.4v5.5M653.5,131.1h5.5M656.3,128.3v5.5M655.3,133.5h5.5M658.0,130.8v5.5M655.3,134.5h5.5M658.0,131.8v5.5M657.7,135.6h5.5M660.4,132.9v5.5" stroke="#2a9e48" stroke-width="1.6" fill="none"/>
<polyline points="662.0,135.0 689.3,135.0 691.3,164.6 693.3,164.6 693.3,192.9 698.4,192.9 698.4,221.5 735.1,221.5" fill="none" stroke="#30b04c" stroke-width="1.4" stroke-linejoin="round" stroke-linecap="butt" opacity="1"/>
<path d="M661.5,135.0H666.5M664.0,132.5V137.5" stroke="#30b04c" stroke-width="1.4" fill="none"/>
<path d="M665.5,135.0H670.5M668.0,132.5V137.5" stroke="#30b04c" stroke-width="1.4" fill="none"/>
<path d="M670.5,135.0H675.5M673.0,132.5V137.5" stroke="#30b04c" stroke-width="1.4" fill="none"/>
<path d="M677.5,135.0H682.5M680.0,132.5V137.5" stroke="#30b04c" stroke-width="1.4" fill="none"/>
<path d="M680.5,135.0H685.5M683.0,132.5V137.5" stroke="#30b04c" stroke-width="1.4" fill="none"/>
<path d="M683.5,135.0H688.5M686.0,132.5V137.5" stroke="#30b04c" stroke-width="1.4" fill="none"/>
<path d="M706.5,221.5H711.5M709.0,219.0V224.0" stroke="#30b04c" stroke-width="1.4" fill="none"/>
<path d="M709.5,221.5H714.5M712.0,219.0V224.0" stroke="#30b04c" stroke-width="1.4" fill="none"/>
<path d="M712.5,221.5H717.5M715.0,219.0V224.0" stroke="#30b04c" stroke-width="1.4" fill="none"/>
<path d="M732.5,221.5H737.5M735.0,219.0V224.0" stroke="#30b04c" stroke-width="1.4" fill="none"/>
<polyline points="488.4,43.3 498.6,52.5 506.8,68.8 514.9,83.0 525.1,97.3 535.3,105.5 541.4,117.7 549.6,127.9 555.7,136.0 572.0,140.1 580.1,150.3 592.4,160.5 604.6,172.7 606.6,175.0 612.8,193.3 622.0,194.4 625.1,201.5 634.2,203.5 635.2,212.1 640.3,212.1 641.4,221.9 698.4,221.9" fill="none" stroke="#d8d4b2" stroke-width="1.2" stroke-linejoin="round" stroke-linecap="butt" opacity="1"/>
<path d="M488.8,45.6h3.2M490.4,44.0v3.2M491.5,47.0h3.2M493.1,45.4v3.2M494.2,49.9h3.2M495.8,48.3v3.2M495.2,51.3h3.2M496.8,49.7v3.2M497.6,53.0h3.2M499.2,51.4v3.2M499.4,56.6h3.2M501.0,55.0v3.2M499.5,58.7h3.2M501.1,57.1v3.2M501.4,62.3h3.2M503.0,60.7v3.2M503.2,64.3h3.2M504.8,62.7v3.2M505.1,66.4h3.2M506.7,64.8v3.2M505.2,70.0h3.2M506.8,68.4v3.2M507.2,72.0h3.2M508.8,70.4v3.2M509.2,75.5h3.2M510.8,73.9v3.2M509.4,77.5h3.2M511.0,75.9v3.2M511.4,79.5h3.2M513.0,77.9v3.2M513.4,83.0h3.2M515.0,81.4v3.2M515.6,84.9h3.2M517.2,83.3v3.2M516.1,88.2h3.2M517.7,86.6v3.2M518.3,90.1h3.2M519.9,88.5v3.2M520.6,91.9h3.2M522.2,90.3v3.2M521.1,95.2h3.2M522.7,93.6v3.2M523.3,97.1h3.2M524.9,95.5v3.2M526.2,99.8h3.2M527.8,98.2v3.2M529.0,101.1h3.2M530.6,99.5v3.2M530.1,102.4h3.2M531.7,100.8v3.2M532.9,105.2h3.2M534.5,103.6v3.2M535.1,107.0h3.2M536.7,105.4v3.2M535.2,110.6h3.2M536.8,109.0v3.2M537.0,112.7h3.2M538.6,111.1v3.2M538.9,114.8h3.2M540.5,113.2v3.2M540.8,118.3h3.2M542.4,116.7v3.2M541.4,120.0h3.2M543.0,118.4v3.2M543.8,123.3h3.2M545.4,121.7v3.2M546.2,125.0h3.2M547.8,123.4v3.2M546.8,126.7h3.2M548.4,125.1v3.2M549.1,130.0h3.2M550.7,128.4v3.2M551.4,131.8h3.2M553.0,130.2v3.2M553.7,135.1h3.2M555.3,133.5v3.2M554.7,136.3h3.2M556.3,134.7v3.2M558.1,136.4h3.2M559.7,134.8v3.2M561.5,138.0h3.2M563.1,136.4v3.2M563.2,138.2h3.2M564.8,136.6v3.2M566.6,139.8h3.2M568.2,138.2v3.2M570.0,139.9h3.2M571.6,138.3v3.2M572.6,141.3h3.2M574.2,139.7v3.2M573.2,144.6h3.2M574.8,143.0v3.2M575.6,146.3h3.2M577.2,144.7v3.2M578.0,149.6h3.2M579.6,148.0v3.2M578.8,151.1h3.2M580.4,149.5v3.2M581.6,152.5h3.2M583.2,150.9v3.2M584.4,155.3h3.2M586.0,153.7v3.2M587.2,156.6h3.2M588.8,155.0v3.2M588.3,159.4h3.2M589.9,157.8v3.2M591.0,160.7h3.2M592.6,159.1v3.2M593.7,162.3h3.2M595.3,160.7v3.2M594.5,165.3h3.2M596.1,163.7v3.2M597.2,166.8h3.2M598.8,165.2v3.2M599.8,169.8h3.2M601.4,168.2v3.2M602.4,171.3h3.2M604.0,169.7v3.2M603.2,172.9h3.2M604.8,171.3v3.2M605.3,176.3h3.2M606.9,174.7v3.2M606.8,178.5h3.2M608.4,176.9v3.2M606.5,182.3h3.2M608.1,180.7v3.2M608.0,184.5h3.2M609.6,182.9v3.2M609.4,186.7h3.2M611.0,185.1v3.2M610.9,190.5h3.2M612.5,188.9v3.2M610.6,192.7h3.2M612.2,191.1v3.2M621.6,197.7h3.2M623.2,196.1v3.2M623.3,199.9h3.2M624.9,198.3v3.2M624.0,201.2h3.2M625.6,199.6v3.2M627.4,202.7h3.2M629.0,201.1v3.2M630.8,202.8h3.2M632.4,201.2v3.2" stroke="#d8d4b2" stroke-width="0.9" fill="none"/>
<path d="M638.9,221.9H643.9M641.4,219.4V224.4" stroke="#d8d4b2" stroke-width="1.4" fill="none"/>
<path d="M646.0,221.9H651.0M648.5,219.4V224.4" stroke="#d8d4b2" stroke-width="1.4" fill="none"/>
<path d="M649.1,221.9H654.1M651.6,219.4V224.4" stroke="#d8d4b2" stroke-width="1.4" fill="none"/>
<path d="M656.2,221.9H661.2M658.7,219.4V224.4" stroke="#d8d4b2" stroke-width="1.4" fill="none"/>
<path d="M662.3,221.9H667.3M664.8,219.4V224.4" stroke="#d8d4b2" stroke-width="1.4" fill="none"/>
<path d="M685.7,221.9H690.7M688.2,219.4V224.4" stroke="#d8d4b2" stroke-width="1.4" fill="none"/>
<rect x="466.00" y="27.10" width="315.00" height="294.90" fill="none" stroke="#4a4a4a" stroke-width="1.6"/>
<line x1="481.00" y1="322.00" x2="481.00" y2="329.00" stroke="#4a4a4a" stroke-width="1.6"/>
<text transform="translate(476.00,346.50) scale(0.18014,0.18571)" font-size="100" font-weight="bold" fill="#111" stroke="#111" stroke-width="1.91">0</text>
<line x1="528.38" y1="322.00" x2="528.38" y2="329.00" stroke="#4a4a4a" stroke-width="1.6"/>
<text transform="translate(523.43,346.50) scale(0.18014,0.18571)" font-size="100" font-weight="bold" fill="#111" stroke="#111" stroke-width="1.91">2</text>
<line x1="575.77" y1="322.00" x2="575.77" y2="329.00" stroke="#4a4a4a" stroke-width="1.6"/>
<text transform="translate(570.68,346.50) scale(0.18014,0.18571)" font-size="100" font-weight="bold" fill="#111" stroke="#111" stroke-width="1.91">4</text>
<line x1="623.15" y1="322.00" x2="623.15" y2="329.00" stroke="#4a4a4a" stroke-width="1.6"/>
<text transform="translate(618.15,346.50) scale(0.18014,0.18571)" font-size="100" font-weight="bold" fill="#111" stroke="#111" stroke-width="1.91">6</text>
<line x1="670.53" y1="322.00" x2="670.53" y2="329.00" stroke="#4a4a4a" stroke-width="1.6"/>
<text transform="translate(665.53,346.50) scale(0.18014,0.18571)" font-size="100" font-weight="bold" fill="#111" stroke="#111" stroke-width="1.91">8</text>
<line x1="717.92" y1="322.00" x2="717.92" y2="329.00" stroke="#4a4a4a" stroke-width="1.6"/>
<text transform="translate(707.74,346.50) scale(0.18014,0.18571)" font-size="100" font-weight="bold" fill="#111" stroke="#111" stroke-width="1.91">10</text>
<line x1="765.30" y1="322.00" x2="765.30" y2="329.00" stroke="#4a4a4a" stroke-width="1.6"/>
<text transform="translate(755.12,346.50) scale(0.18014,0.18571)" font-size="100" font-weight="bold" fill="#111" stroke="#111" stroke-width="1.91">12</text>
<line x1="458.30" y1="307.30" x2="466.00" y2="307.30" stroke="#4a4a4a" stroke-width="1.6"/>
<text transform="translate(432.23,315.25) scale(0.18050,0.19000)" font-size="100" font-weight="bold" fill="#111" stroke="#111" stroke-width="1.89">0.0</text>
<line x1="458.30" y1="254.24" x2="466.00" y2="254.24" stroke="#4a4a4a" stroke-width="1.6"/>
<text transform="translate(432.23,262.19) scale(0.18050,0.19000)" font-size="100" font-weight="bold" fill="#111" stroke="#111" stroke-width="1.89">0.2</text>
<line x1="458.30" y1="201.18" x2="466.00" y2="201.18" stroke="#4a4a4a" stroke-width="1.6"/>
<text transform="translate(431.60,209.13) scale(0.18050,0.19000)" font-size="100" font-weight="bold" fill="#111" stroke="#111" stroke-width="1.89">0.4</text>
<line x1="458.30" y1="148.12" x2="466.00" y2="148.12" stroke="#4a4a4a" stroke-width="1.6"/>
<text transform="translate(432.14,156.07) scale(0.18050,0.19000)" font-size="100" font-weight="bold" fill="#111" stroke="#111" stroke-width="1.89">0.6</text>
<line x1="458.30" y1="95.06" x2="466.00" y2="95.06" stroke="#4a4a4a" stroke-width="1.6"/>
<text transform="translate(432.05,103.01) scale(0.18050,0.19000)" font-size="100" font-weight="bold" fill="#111" stroke="#111" stroke-width="1.89">0.8</text>
<line x1="458.30" y1="42.00" x2="466.00" y2="42.00" stroke="#4a4a4a" stroke-width="1.6"/>
<text transform="translate(432.23,49.95) scale(0.18050,0.19000)" font-size="100" font-weight="bold" fill="#111" stroke="#111" stroke-width="1.89">1.0</text>
<text transform="translate(421.10,285.25) rotate(-90) scale(0.18758,0.18621)" font-size="100" font-weight="bold" fill="#111" stroke="#111" stroke-width="1.87">CVD cumulative Survival</text>
<text transform="translate(517.82,374.80) scale(0.18467,0.19000)" font-size="100" font-weight="bold" fill="#111" stroke="#111" stroke-width="1.87">Time of follow-up(years)</text>
<text transform="translate(407.08,21.00) scale(0.29508,0.27681)" font-size="100" font-weight="bold" fill="#000" stroke="#000" stroke-width="1.22">B</text>
<text transform="translate(655.45,59.60) scale(0.18675,0.16571)" font-size="100" font-weight="bold" fill="#111" stroke="#111" stroke-width="1.99">GPS=0</text>
<text transform="translate(602.07,101.40) scale(0.18179,0.17429)" font-size="100" font-weight="bold" fill="#111" stroke="#111" stroke-width="1.97">GPS=1</text>
<text transform="translate(512.56,158.90) scale(0.18517,0.16714)" font-size="100" font-weight="bold" fill="#111" stroke="#111" stroke-width="1.99">GPS=2</text>
<text transform="translate(487.16,267.70) scale(0.19028,0.16812)" font-size="100" font-weight="bold" fill="#111" stroke="#111" stroke-width="1.95">Log-rank test,</text>
<text transform="translate(499.00,292.20) scale(0.18497,0.16812)" font-size="100" font-weight="bold" fill="#111" stroke="#111" stroke-width="1.98">P&lt;0.001</text>
<polyline points="88.3,653.2 102.6,655.3 118.9,660.4 137.2,667.5 157.6,670.6 169.8,676.7 186.1,683.8 204.5,683.8 218.8,691.0 232.2,697.1 242.4,701.1 248.5,708.3 258.7,709.3 262.8,712.4" fill="none" stroke="#3a4aa6" stroke-width="3.3600000000000003" stroke-linejoin="round" stroke-linecap="butt" opacity="1"/>
<path d="M87.3,653.8h5.5M90.0,651.1v5.5M89.8,653.5h5.5M92.5,650.8v5.5M92.3,654.7h5.5M95.0,651.9v5.5M93.0,654.4h5.5M95.7,651.6v5.5M95.5,654.1h5.5M98.2,651.3v5.5M97.9,655.2h5.5M100.7,652.5v5.5M98.7,654.9h5.5M101.4,652.2v5.5M101.1,656.4h5.5M103.8,653.6v5.5M103.5,656.4h5.5M106.2,653.6v5.5M105.9,656.4h5.5M108.6,653.6v5.5M106.6,657.9h5.5M109.3,655.1v5.5M109.0,657.9h5.5M111.7,655.1v5.5M111.4,659.3h5.5M114.1,656.6v5.5M112.0,659.3h5.5M114.8,656.6v5.5M114.5,659.3h5.5M117.2,656.6v5.5M116.9,660.9h5.5M119.6,658.1v5.5M119.2,661.0h5.5M122.0,658.3v5.5M119.8,662.6h5.5M122.6,659.9v5.5M122.2,662.7h5.5M124.9,660.0v5.5M124.6,662.9h5.5M127.3,660.1v5.5M125.2,664.5h5.5M127.9,661.8v5.5M127.5,664.6h5.5M130.3,661.9v5.5M129.9,666.2h5.5M132.6,663.5v5.5M132.3,666.4h5.5M135.0,663.6v5.5M132.9,666.5h5.5M135.6,663.7v5.5M135.3,667.9h5.5M138.0,665.2v5.5M137.8,667.6h5.5M140.5,664.9v5.5M138.5,668.8h5.5M141.2,666.1v5.5M141.0,668.5h5.5M143.7,665.8v5.5M143.5,668.2h5.5M146.2,665.5v5.5M145.9,669.4h5.5M148.7,666.7v5.5M146.7,669.1h5.5M149.4,666.4v5.5M149.1,670.3h5.5M151.9,667.6v5.5M151.6,670.0h5.5M154.3,667.3v5.5M152.3,669.7h5.5M155.1,667.0v5.5M154.8,671.0h5.5M157.5,668.3v5.5M157.1,671.3h5.5M159.8,668.6v5.5M159.4,673.1h5.5M162.1,670.4v5.5M159.9,673.4h5.5M162.6,670.6v5.5M162.2,673.7h5.5M164.9,670.9v5.5M164.5,675.5h5.5M167.2,672.7v5.5M165.0,675.8h5.5M167.8,673.0v5.5M167.3,677.5h5.5M170.1,674.8v5.5M169.7,677.7h5.5M172.4,675.0v5.5M172.0,677.9h5.5M174.7,675.2v5.5M172.6,679.6h5.5M175.3,676.9v5.5M174.9,679.8h5.5M177.7,677.1v5.5M177.3,681.5h5.5M180.0,678.8v5.5M177.8,681.7h5.5M180.6,679.0v5.5M180.2,681.9h5.5M182.9,679.2v5.5M182.5,683.6h5.5M185.2,680.9v5.5M184.9,683.5h5.5M187.6,680.8v5.5M185.7,684.4h5.5M188.4,681.7v5.5M188.2,683.8h5.5M190.9,681.1v5.5M190.7,683.2h5.5M193.4,680.5v5.5M191.4,684.1h5.5M194.1,681.4v5.5M193.9,683.5h5.5M196.6,680.8v5.5M196.4,684.4h5.5M199.1,681.7v5.5M198.9,683.8h5.5M201.6,681.1v5.5M199.7,683.2h5.5M202.4,680.5v5.5M202.1,684.3h5.5M204.8,681.5v5.5M204.4,684.6h5.5M207.1,681.8v5.5M204.9,686.4h5.5M207.7,683.6v5.5M207.2,686.7h5.5M210.0,683.9v5.5M209.5,687.0h5.5M212.2,684.2v5.5M211.8,688.8h5.5M214.5,686.0v5.5M212.3,689.1h5.5M215.1,686.3v5.5M214.6,690.9h5.5M217.3,688.1v5.5M216.9,691.2h5.5M219.6,688.4v5.5M217.5,691.4h5.5M220.2,688.7v5.5M219.8,693.1h5.5M222.5,690.4v5.5M222.1,693.3h5.5M224.9,690.6v5.5M224.4,695.1h5.5M227.2,692.3v5.5M225.0,695.3h5.5M227.7,692.6v5.5M227.3,695.5h5.5M230.1,692.8v5.5M229.7,697.3h5.5M232.4,694.5v5.5M230.3,697.4h5.5M233.0,694.7v5.5M232.6,699.0h5.5M235.3,696.3v5.5M235.0,699.2h5.5M237.7,696.4v5.5M237.3,699.3h5.5M240.1,696.6v5.5M238.0,700.9h5.5M240.7,698.2v5.5M240.1,701.3h5.5M242.8,698.6v5.5M241.9,703.8h5.5M244.6,701.0v5.5M242.0,704.7h5.5M244.7,702.0v5.5M243.7,705.6h5.5M246.5,702.9v5.5M245.5,708.0h5.5M248.3,705.3v5.5M247.8,708.1h5.5M250.5,705.4v5.5M248.5,709.2h5.5M251.2,706.5v5.5M251.0,708.8h5.5M253.7,706.1v5.5M253.5,708.4h5.5M256.2,705.7v5.5M254.2,709.5h5.5M257.0,706.8v5.5M256.5,709.6h5.5M259.3,706.9v5.5M258.6,711.7h5.5M261.4,709.0v5.5M260.7,712.3h5.5M263.4,709.6v5.5" stroke="#34449c" stroke-width="1.6" fill="none"/>
<polyline points="262.8,712.4 273.0,712.4 275.0,718.5 281.1,718.5 283.1,724.6 290.3,725.6 291.3,734.8 302.5,734.8 303.5,749.0 344.3,749.0" fill="none" stroke="#3a4aa6" stroke-width="1.4" stroke-linejoin="round" stroke-linecap="butt" opacity="1"/>
<path d="M261.5,712.4H266.5M264.0,709.9V714.9" stroke="#3a4aa6" stroke-width="1.4" fill="none"/>
<path d="M264.5,712.4H269.5M267.0,709.9V714.9" stroke="#3a4aa6" stroke-width="1.4" fill="none"/>
<path d="M269.5,712.4H274.5M272.0,709.9V714.9" stroke="#3a4aa6" stroke-width="1.4" fill="none"/>
<path d="M278.5,718.5H283.5M281.0,716.0V721.0" stroke="#3a4aa6" stroke-width="1.4" fill="none"/>
<path d="M280.5,725.6H285.5M283.0,723.1V728.1" stroke="#3a4aa6" stroke-width="1.4" fill="none"/>
<path d="M285.5,725.6H290.5M288.0,723.1V728.1" stroke="#3a4aa6" stroke-width="1.4" fill="none"/>
<path d="M288.5,734.8H293.5M291.0,732.3V737.3" stroke="#3a4aa6" stroke-width="1.4" fill="none"/>
<path d="M292.5,734.8H297.5M295.0,732.3V737.3" stroke="#3a4aa6" stroke-width="1.4" fill="none"/>
<path d="M297.5,734.8H302.5M300.0,732.3V737.3" stroke="#3a4aa6" stroke-width="1.4" fill="none"/>
<path d="M301.0,749.0H306.0M303.5,746.5V751.5" stroke="#3a4aa6" stroke-width="1.4" fill="none"/>
<path d="M308.5,749.0H313.5M311.0,746.5V751.5" stroke="#3a4aa6" stroke-width="1.4" fill="none"/>
<path d="M310.5,749.0H315.5M313.0,746.5V751.5" stroke="#3a4aa6" stroke-width="1.4" fill="none"/>
<path d="M312.5,749.0H317.5M315.0,746.5V751.5" stroke="#3a4aa6" stroke-width="1.4" fill="none"/>
<path d="M319.5,749.0H324.5M322.0,746.5V751.5" stroke="#3a4aa6" stroke-width="1.4" fill="none"/>
<path d="M337.5,749.0H342.5M340.0,746.5V751.5" stroke="#3a4aa6" stroke-width="1.4" fill="none"/>
<polyline points="90.3,653.2 106.7,662.4 125.0,676.7 143.3,689.9 159.6,705.2 173.9,715.4 188.2,729.7 202.5,744.0 216.7,756.2 222.0,760.0 232.2,768.0 242.4,774.5 250.5,781.2 260.7,786.3 270.9,799.6" fill="none" stroke="#30b04c" stroke-width="3.44" stroke-linejoin="round" stroke-linecap="butt" opacity="1"/>
<path d="M89.0,654.5h5.6M91.8,651.7v5.6M91.2,654.9h5.6M94.0,652.1v5.6M93.5,656.7h5.6M96.3,653.9v5.6M94.0,657.1h5.6M96.8,654.3v5.6M96.2,657.5h5.6M99.0,654.7v5.6M98.5,659.4h5.6M101.3,656.6v5.6M99.0,659.7h5.6M101.8,657.0v5.6M101.2,661.6h5.6M104.0,658.8v5.6M103.5,662.0h5.6M106.2,659.2v5.6M105.6,662.5h5.6M108.4,659.7v5.6M105.9,664.7h5.6M108.7,661.9v5.6M108.0,665.3h5.6M110.8,662.5v5.6M110.1,667.4h5.6M112.9,664.6v5.6M110.4,668.1h5.6M113.2,665.3v5.6M112.5,668.7h5.6M115.3,665.9v5.6M114.6,670.8h5.6M117.3,668.0v5.6M116.6,671.5h5.6M119.4,668.7v5.6M117.0,673.6h5.6M119.7,670.8v5.6M119.0,674.2h5.6M121.8,671.4v5.6M121.1,674.9h5.6M123.9,672.1v5.6M121.4,677.0h5.6M124.2,674.2v5.6M123.6,677.6h5.6M126.3,674.8v5.6M125.7,679.6h5.6M128.5,676.8v5.6M127.8,680.2h5.6M130.6,677.4v5.6M128.2,680.8h5.6M131.0,678.0v5.6M130.3,682.8h5.6M133.1,680.0v5.6M132.4,683.4h5.6M135.2,680.6v5.6M132.8,685.5h5.6M135.6,682.7v5.6M134.9,686.0h5.6M137.7,683.2v5.6M137.0,686.6h5.6M139.8,683.8v5.6M139.2,688.7h5.6M141.9,685.9v5.6M139.5,689.3h5.6M142.3,686.5v5.6M141.5,691.5h5.6M144.3,688.7v5.6M143.5,692.2h5.6M146.3,689.4v5.6M143.7,693.0h5.6M146.5,690.2v5.6M145.7,695.3h5.6M148.5,692.5v5.6M147.6,696.0h5.6M150.4,693.2v5.6M149.6,698.3h5.6M152.4,695.5v5.6M149.8,699.1h5.6M152.6,696.3v5.6M151.7,699.8h5.6M154.5,697.0v5.6M153.7,702.1h5.6M156.5,699.3v5.6M153.9,702.9h5.6M156.7,700.1v5.6M155.9,705.2h5.6M158.7,702.4v5.6M157.9,705.8h5.6M160.7,703.0v5.6M160.0,706.4h5.6M162.8,703.6v5.6M160.4,708.4h5.6M163.2,705.6v5.6M162.5,709.0h5.6M165.3,706.2v5.6M164.7,711.1h5.6M167.5,708.3v5.6M165.1,711.6h5.6M167.8,708.8v5.6M167.2,712.2h5.6M170.0,709.4v5.6M169.3,714.2h5.6M172.1,711.4v5.6M171.4,714.8h5.6M174.2,712.0v5.6M171.7,717.1h5.6M174.5,714.3v5.6M173.6,717.9h5.6M176.4,715.1v5.6M175.5,718.7h5.6M178.3,715.9v5.6M175.6,721.0h5.6M178.4,718.2v5.6M177.6,721.8h5.6M180.4,719.0v5.6M179.5,724.1h5.6M182.3,721.3v5.6M181.4,724.9h5.6M184.2,722.1v5.6M181.6,725.8h5.6M184.4,723.0v5.6M183.5,728.1h5.6M186.3,725.3v5.6M185.4,728.9h5.6M188.2,726.1v5.6M185.5,731.2h5.6M188.3,728.4v5.6M187.5,732.0h5.6M190.3,729.2v5.6M189.4,732.8h5.6M192.2,730.0v5.6M191.3,735.1h5.6M194.1,732.3v5.6M191.5,736.0h5.6M194.3,733.2v5.6M193.4,738.3h5.6M196.2,735.5v5.6M195.3,739.1h5.6M198.1,736.3v5.6M195.4,739.9h5.6M198.2,737.1v5.6M197.4,742.2h5.6M200.2,739.4v5.6M199.3,743.0h5.6M202.1,740.2v5.6M201.2,745.3h5.6M204.0,742.5v5.6M201.5,746.0h5.6M204.3,743.2v5.6M203.5,746.7h5.6M206.3,743.9v5.6M205.5,748.9h5.6M208.3,746.1v5.6M205.8,749.6h5.6M208.6,746.8v5.6M207.8,751.8h5.6M210.6,749.0v5.6M209.8,752.5h5.6M212.6,749.7v5.6M211.9,753.2h5.6M214.7,750.4v5.6M212.1,755.4h5.6M214.9,752.6v5.6M214.2,756.1h5.6M217.0,753.3v5.6M216.3,758.2h5.6M219.1,755.4v5.6M216.7,758.7h5.6M219.5,755.9v5.6M218.8,759.3h5.6M221.6,756.5v5.6M220.9,761.4h5.6M223.7,758.6v5.6M222.9,762.0h5.6M225.7,759.2v5.6M223.3,764.2h5.6M226.1,761.4v5.6M225.3,764.8h5.6M228.1,762.0v5.6M227.4,765.4h5.6M230.2,762.7v5.6M227.7,767.6h5.6M230.5,764.8v5.6M229.9,768.1h5.6M232.7,765.4v5.6M232.0,770.1h5.6M234.8,767.3v5.6M234.2,770.6h5.6M237.0,767.8v5.6M234.7,771.1h5.6M237.5,768.3v5.6M236.9,773.0h5.6M239.7,770.3v5.6M239.0,773.5h5.6M241.8,770.7v5.6M239.4,775.6h5.6M242.2,772.8v5.6M241.5,776.2h5.6M244.3,773.5v5.6M243.5,776.9h5.6M246.3,774.1v5.6M245.5,779.1h5.6M248.3,776.3v5.6M245.8,779.8h5.6M248.6,777.0v5.6M247.9,781.9h5.6M250.7,779.1v5.6M250.2,782.2h5.6M253.0,779.4v5.6M250.7,782.5h5.6M253.5,779.7v5.6M253.0,784.3h5.6M255.8,781.5v5.6M255.3,784.6h5.6M258.1,781.8v5.6M257.6,786.4h5.6M260.4,783.6v5.6M257.9,787.0h5.6M260.7,784.2v5.6M259.6,787.9h5.6M262.4,785.1v5.6M261.3,790.4h5.6M264.1,787.6v5.6M261.3,791.4h5.6M264.1,788.6v5.6M263.0,793.9h5.6M265.8,791.1v5.6M264.7,794.9h5.6M267.5,792.1v5.6M266.5,795.9h5.6M269.3,793.1v5.6M266.4,798.4h5.6M269.2,795.6v5.6" stroke="#2a9e48" stroke-width="1.6" fill="none"/>
<polyline points="270.9,799.6 291.3,799.6 298.4,809.7 300.5,815.9 305.6,815.9 307.6,823.0 313.7,823.0 314.7,832.8 337.2,832.8" fill="none" stroke="#30b04c" stroke-width="1.4" stroke-linejoin="round" stroke-linecap="butt" opacity="1"/>
<path d="M272.5,799.6H277.5M275.0,797.1V802.1" stroke="#30b04c" stroke-width="1.4" fill="none"/>
<path d="M277.5,799.6H282.5M280.0,797.1V802.1" stroke="#30b04c" stroke-width="1.4" fill="none"/>
<path d="M284.5,799.6H289.5M287.0,797.1V802.1" stroke="#30b04c" stroke-width="1.4" fill="none"/>
<path d="M287.5,799.6H292.5M290.0,797.1V802.1" stroke="#30b04c" stroke-width="1.4" fill="none"/>
<path d="M294.5,807.0H299.5M297.0,804.5V809.5" stroke="#30b04c" stroke-width="1.4" fill="none"/>
<path d="M297.5,812.0H302.5M300.0,809.5V814.5" stroke="#30b04c" stroke-width="1.4" fill="none"/>
<path d="M303.5,820.0H308.5M306.0,817.5V822.5" stroke="#30b04c" stroke-width="1.4" fill="none"/>
<path d="M310.5,823.0H315.5M313.0,820.5V825.5" stroke="#30b04c" stroke-width="1.4" fill="none"/>
<path d="M315.5,832.8H320.5M318.0,830.3V835.3" stroke="#30b04c" stroke-width="1.4" fill="none"/>
<path d="M317.5,832.8H322.5M320.0,830.3V835.3" stroke="#30b04c" stroke-width="1.4" fill="none"/>
<path d="M318.5,832.8H323.5M321.0,830.3V835.3" stroke="#30b04c" stroke-width="1.4" fill="none"/>
<path d="M327.5,832.8H332.5M330.0,830.3V835.3" stroke="#30b04c" stroke-width="1.4" fill="none"/>
<path d="M333.5,832.8H338.5M336.0,830.3V835.3" stroke="#30b04c" stroke-width="1.4" fill="none"/>
<rect x="71.00" y="638.90" width="310.00" height="285.50" fill="none" stroke="#4a4a4a" stroke-width="1.6"/>
<line x1="86.60" y1="924.40" x2="86.60" y2="936.40" stroke="#4a4a4a" stroke-width="1.6"/>
<text transform="translate(81.60,955.20) scale(0.18014,0.18571)" font-size="100" font-weight="bold" fill="#111" stroke="#111" stroke-width="1.91">0</text>
<line x1="133.17" y1="924.40" x2="133.17" y2="936.40" stroke="#4a4a4a" stroke-width="1.6"/>
<text transform="translate(128.21,955.20) scale(0.18014,0.18571)" font-size="100" font-weight="bold" fill="#111" stroke="#111" stroke-width="1.91">2</text>
<line x1="179.73" y1="924.40" x2="179.73" y2="936.40" stroke="#4a4a4a" stroke-width="1.6"/>
<text transform="translate(174.64,955.20) scale(0.18014,0.18571)" font-size="100" font-weight="bold" fill="#111" stroke="#111" stroke-width="1.91">4</text>
<line x1="226.30" y1="924.40" x2="226.30" y2="936.40" stroke="#4a4a4a" stroke-width="1.6"/>
<text transform="translate(221.30,955.20) scale(0.18014,0.18571)" font-size="100" font-weight="bold" fill="#111" stroke="#111" stroke-width="1.91">6</text>
<line x1="272.87" y1="924.40" x2="272.87" y2="936.40" stroke="#4a4a4a" stroke-width="1.6"/>
<text transform="translate(267.87,955.20) scale(0.18014,0.18571)" font-size="100" font-weight="bold" fill="#111" stroke="#111" stroke-width="1.91">8</text>
<line x1="319.43" y1="924.40" x2="319.43" y2="936.40" stroke="#4a4a4a" stroke-width="1.6"/>
<text transform="translate(309.26,955.20) scale(0.18014,0.18571)" font-size="100" font-weight="bold" fill="#111" stroke="#111" stroke-width="1.91">10</text>
<line x1="366.00" y1="924.40" x2="366.00" y2="936.40" stroke="#4a4a4a" stroke-width="1.6"/>
<text transform="translate(355.82,955.20) scale(0.18014,0.18571)" font-size="100" font-weight="bold" fill="#111" stroke="#111" stroke-width="1.91">12</text>
<line x1="58.30" y1="910.20" x2="71.00" y2="910.20" stroke="#4a4a4a" stroke-width="1.6"/>
<text transform="translate(32.95,918.30) scale(0.18186,0.19143)" font-size="100" font-weight="bold" fill="#111" stroke="#111" stroke-width="1.88">0.0</text>
<line x1="58.30" y1="858.74" x2="71.00" y2="858.74" stroke="#4a4a4a" stroke-width="1.6"/>
<text transform="translate(32.95,866.84) scale(0.18186,0.19143)" font-size="100" font-weight="bold" fill="#111" stroke="#111" stroke-width="1.88">0.2</text>
<line x1="58.30" y1="807.28" x2="71.00" y2="807.28" stroke="#4a4a4a" stroke-width="1.6"/>
<text transform="translate(32.31,815.38) scale(0.18186,0.19143)" font-size="100" font-weight="bold" fill="#111" stroke="#111" stroke-width="1.88">0.4</text>
<line x1="58.30" y1="755.82" x2="71.00" y2="755.82" stroke="#4a4a4a" stroke-width="1.6"/>
<text transform="translate(32.86,763.92) scale(0.18186,0.19143)" font-size="100" font-weight="bold" fill="#111" stroke="#111" stroke-width="1.88">0.6</text>
<line x1="58.30" y1="704.36" x2="71.00" y2="704.36" stroke="#4a4a4a" stroke-width="1.6"/>
<text transform="translate(32.77,712.46) scale(0.18186,0.19143)" font-size="100" font-weight="bold" fill="#111" stroke="#111" stroke-width="1.88">0.8</text>
<line x1="58.30" y1="652.90" x2="71.00" y2="652.90" stroke="#4a4a4a" stroke-width="1.6"/>
<text transform="translate(32.95,661.00) scale(0.18186,0.19143)" font-size="100" font-weight="bold" fill="#111" stroke="#111" stroke-width="1.88">1.0</text>
<text transform="translate(21.10,904.57) rotate(-90) scale(0.19251,0.18621)" font-size="100" font-weight="bold" fill="#111" stroke="#111" stroke-width="1.85">Overall cumulative Survival</text>
<text transform="translate(120.82,983.80) scale(0.18467,0.17857)" font-size="100" font-weight="bold" fill="#111" stroke="#111" stroke-width="1.93">Time of follow-up(years)</text>
<text transform="translate(4.52,627.00) scale(0.29466,0.30556)" font-size="100" font-weight="bold" fill="#000" stroke="#000" stroke-width="1.17">C</text>
<text transform="translate(210.73,686.50) scale(0.17926,0.16857)" font-size="100" font-weight="bold" fill="#111" stroke="#111" stroke-width="2.01">PNI=0</text>
<text transform="translate(146.68,755.80) scale(0.17274,0.17571)" font-size="100" font-weight="bold" fill="#111" stroke="#111" stroke-width="2.01">PNI=1</text>
<text transform="translate(84.67,877.60) scale(0.18997,0.17681)" font-size="100" font-weight="bold" fill="#111" stroke="#111" stroke-width="1.91">Log-rank test,</text>
<text transform="translate(107.50,906.20) scale(0.18497,0.17246)" font-size="100" font-weight="bold" fill="#111" stroke="#111" stroke-width="1.96">P&lt;0.001</text>
<polyline points="484.3,653.2 505.7,654.3 526.1,658.3 550.5,661.4 570.9,663.4 583.1,667.5 607.6,668.5 615.8,671.6 629.0,672.6 638.3,673.6 646.5,679.7 655.7,680.8" fill="none" stroke="#3a4aa6" stroke-width="3.3600000000000003" stroke-linejoin="round" stroke-linecap="butt" opacity="1"/>
<path d="M483.3,653.6h5.5M486.0,650.9v5.5M485.8,653.1h5.5M488.5,650.4v5.5M488.3,654.1h5.5M491.0,651.4v5.5M489.1,653.6h5.5M491.8,650.9v5.5M491.6,653.1h5.5M494.3,650.4v5.5M494.1,654.1h5.5M496.8,651.4v5.5M494.8,653.6h5.5M497.5,650.9v5.5M497.3,654.6h5.5M500.0,651.9v5.5M499.8,654.1h5.5M502.5,651.4v5.5M502.3,653.6h5.5M505.0,650.9v5.5M503.0,654.7h5.5M505.8,652.0v5.5M505.5,654.5h5.5M508.2,651.8v5.5M508.0,655.8h5.5M510.7,653.0v5.5M508.7,655.6h5.5M511.4,652.8v5.5M511.1,655.3h5.5M513.9,652.6v5.5M513.6,656.6h5.5M516.3,653.9v5.5M516.1,656.4h5.5M518.8,653.7v5.5M516.8,657.7h5.5M519.5,655.0v5.5M519.2,657.5h5.5M522.0,654.8v5.5M521.7,657.3h5.5M524.4,654.5v5.5M522.4,658.6h5.5M525.1,655.8v5.5M524.9,658.2h5.5M527.6,655.5v5.5M527.4,659.4h5.5M530.1,656.6v5.5M529.9,659.0h5.5M532.6,656.3v5.5M530.6,658.7h5.5M533.3,656.0v5.5M533.1,659.8h5.5M535.8,657.1v5.5M535.6,659.5h5.5M538.3,656.8v5.5M536.3,660.6h5.5M539.0,657.9v5.5M538.8,660.3h5.5M541.5,657.6v5.5M541.3,659.9h5.5M544.0,657.2v5.5M543.7,661.1h5.5M546.5,658.4v5.5M544.5,660.7h5.5M547.2,658.0v5.5M547.0,661.9h5.5M549.7,659.2v5.5M549.5,661.5h5.5M552.2,658.8v5.5M550.2,661.1h5.5M552.9,658.4v5.5M552.7,662.2h5.5M555.4,659.5v5.5M555.2,661.8h5.5M557.9,659.1v5.5M557.7,662.9h5.5M560.4,660.2v5.5M558.4,662.5h5.5M561.1,659.8v5.5M560.9,662.1h5.5M563.6,659.4v5.5M563.4,663.2h5.5M566.1,660.5v5.5M564.1,662.8h5.5M566.9,660.0v5.5M566.6,663.9h5.5M569.3,661.1v5.5M569.1,663.6h5.5M571.8,660.9v5.5M571.5,663.7h5.5M574.2,660.9v5.5M572.1,665.2h5.5M574.8,662.5v5.5M574.5,665.2h5.5M577.2,662.5v5.5M576.9,666.8h5.5M579.6,664.0v5.5M577.6,666.8h5.5M580.3,664.1v5.5M579.9,666.8h5.5M582.7,664.1v5.5M582.4,667.9h5.5M585.2,665.1v5.5M584.9,667.4h5.5M587.7,664.6v5.5M585.7,668.3h5.5M588.4,665.6v5.5M588.2,667.8h5.5M590.9,665.1v5.5M590.7,667.3h5.5M593.4,664.6v5.5M591.4,668.3h5.5M594.2,665.6v5.5M593.9,667.8h5.5M596.7,665.0v5.5M596.4,668.7h5.5M599.2,666.0v5.5M598.9,668.2h5.5M601.7,665.5v5.5M599.7,667.7h5.5M602.4,665.0v5.5M602.2,668.7h5.5M604.9,666.0v5.5M604.7,668.2h5.5M607.4,665.4v5.5M605.3,669.6h5.5M608.1,666.8v5.5M607.7,669.7h5.5M610.4,666.9v5.5M610.1,669.8h5.5M612.8,667.0v5.5M612.4,671.4h5.5M615.2,668.7v5.5M613.1,671.3h5.5M615.8,668.6v5.5M615.6,672.4h5.5M618.3,669.7v5.5M618.1,671.9h5.5M620.8,669.2v5.5M618.8,671.5h5.5M621.6,668.8v5.5M621.3,672.5h5.5M624.1,669.8v5.5M623.8,672.1h5.5M626.6,669.4v5.5M626.3,673.1h5.5M629.0,670.4v5.5M627.1,672.7h5.5M629.8,670.0v5.5M629.5,672.4h5.5M632.3,669.6v5.5M632.0,673.5h5.5M634.8,670.7v5.5M632.8,673.1h5.5M635.5,670.3v5.5M635.3,674.2h5.5M638.0,671.5v5.5M637.4,674.8h5.5M640.1,672.0v5.5M639.5,675.4h5.5M642.2,672.6v5.5M639.8,677.4h5.5M642.6,674.7v5.5M641.9,678.0h5.5M644.7,675.3v5.5M644.0,680.1h5.5M646.8,677.4v5.5M644.7,679.9h5.5M647.5,677.2v5.5M647.2,679.5h5.5M649.9,676.8v5.5M649.7,680.7h5.5M652.4,677.9v5.5M652.2,680.3h5.5M654.9,677.6v5.5" stroke="#34449c" stroke-width="1.6" fill="none"/>
<polyline points="655.7,680.8 656.7,685.3 741.3,685.3" fill="none" stroke="#3a4aa6" stroke-width="1.4" stroke-linejoin="round" stroke-linecap="butt" opacity="1"/>
<path d="M657.5,685.3H662.5M660.0,682.8V687.8" stroke="#3a4aa6" stroke-width="1.4" fill="none"/>
<path d="M662.5,685.3H667.5M665.0,682.8V687.8" stroke="#3a4aa6" stroke-width="1.4" fill="none"/>
<path d="M666.5,685.3H671.5M669.0,682.8V687.8" stroke="#3a4aa6" stroke-width="1.4" fill="none"/>
<path d="M673.5,685.3H678.5M676.0,682.8V687.8" stroke="#3a4aa6" stroke-width="1.4" fill="none"/>
<path d="M677.5,685.3H682.5M680.0,682.8V687.8" stroke="#3a4aa6" stroke-width="1.4" fill="none"/>
<path d="M679.5,685.3H684.5M682.0,682.8V687.8" stroke="#3a4aa6" stroke-width="1.4" fill="none"/>
<path d="M681.5,685.3H686.5M684.0,682.8V687.8" stroke="#3a4aa6" stroke-width="1.4" fill="none"/>
<path d="M687.5,685.3H692.5M690.0,682.8V687.8" stroke="#3a4aa6" stroke-width="1.4" fill="none"/>
<path d="M691.5,685.3H696.5M694.0,682.8V687.8" stroke="#3a4aa6" stroke-width="1.4" fill="none"/>
<path d="M697.5,685.3H702.5M700.0,682.8V687.8" stroke="#3a4aa6" stroke-width="1.4" fill="none"/>
<path d="M705.5,685.3H710.5M708.0,682.8V687.8" stroke="#3a4aa6" stroke-width="1.4" fill="none"/>
<path d="M709.5,685.3H714.5M712.0,682.8V687.8" stroke="#3a4aa6" stroke-width="1.4" fill="none"/>
<path d="M713.5,685.3H718.5M716.0,682.8V687.8" stroke="#3a4aa6" stroke-width="1.4" fill="none"/>
<path d="M735.5,685.3H740.5M738.0,682.8V687.8" stroke="#3a4aa6" stroke-width="1.4" fill="none"/>
<polyline points="484.3,653.2 499.6,655.3 520.0,662.4 534.2,671.6 550.5,679.7 566.8,685.9 583.1,694.0 599.5,701.1 611.7,711.3 621.9,717.5 632.2,721.5 642.4,727.6 656.7,728.7 666.9,731.7" fill="none" stroke="#30b04c" stroke-width="3.6" stroke-linejoin="round" stroke-linecap="butt" opacity="1"/>
<path d="M483.1,653.8h5.9M486.0,650.8v5.9M485.6,653.4h5.9M488.5,650.5v5.9M488.1,654.6h5.9M491.0,651.7v5.9M488.8,654.3h5.9M491.7,651.4v5.9M491.3,654.0h5.9M494.2,651.0v5.9M493.8,655.1h5.9M496.7,652.2v5.9M494.5,654.8h5.9M497.4,651.9v5.9M497.0,656.1h5.9M499.9,653.2v5.9M499.3,656.1h5.9M502.3,653.2v5.9M501.7,656.2h5.9M504.7,653.3v5.9M502.4,657.8h5.9M505.3,654.8v5.9M504.8,657.8h5.9M507.7,654.9v5.9M507.1,659.4h5.9M510.1,656.4v5.9M507.8,659.4h5.9M510.7,656.5v5.9M510.2,659.5h5.9M513.1,656.6v5.9M512.6,661.0h5.9M515.5,658.1v5.9M515.0,661.1h5.9M517.9,658.2v5.9M515.6,662.7h5.9M518.5,659.7v5.9M517.9,662.9h5.9M520.8,660.0v5.9M520.1,663.4h5.9M523.0,660.5v5.9M520.5,665.4h5.9M523.4,662.5v5.9M522.7,665.9h5.9M525.6,663.0v5.9M524.8,667.9h5.9M527.8,664.9v5.9M527.0,668.4h5.9M529.9,665.4v5.9M527.4,668.8h5.9M530.4,665.9v5.9M529.6,670.8h5.9M532.6,667.9v5.9M531.8,671.3h5.9M534.7,668.4v5.9M532.3,673.1h5.9M535.3,670.2v5.9M534.6,673.4h5.9M537.6,670.5v5.9M536.9,673.7h5.9M539.9,670.8v5.9M539.2,675.5h5.9M542.1,672.6v5.9M539.8,675.8h5.9M542.7,672.8v5.9M542.1,677.6h5.9M545.0,674.6v5.9M544.3,677.8h5.9M547.3,674.9v5.9M544.9,678.1h5.9M547.8,675.2v5.9M547.2,679.9h5.9M550.1,677.0v5.9M549.5,680.1h5.9M552.5,677.1v5.9M551.9,681.7h5.9M554.8,678.7v5.9M552.5,681.8h5.9M555.5,678.8v5.9M554.9,681.9h5.9M557.8,679.0v5.9M557.3,683.5h5.9M560.2,680.6v5.9M557.9,683.6h5.9M560.8,680.7v5.9M560.3,685.2h5.9M563.2,682.3v5.9M562.6,685.3h5.9M565.6,682.4v5.9M565.0,685.5h5.9M567.9,682.6v5.9M565.5,687.3h5.9M568.4,684.3v5.9M567.8,687.6h5.9M570.7,684.6v5.9M570.1,689.3h5.9M573.0,686.4v5.9M570.6,689.6h5.9M573.6,686.7v5.9M572.9,689.9h5.9M575.9,687.0v5.9M575.2,691.7h5.9M578.2,688.8v5.9M577.5,692.0h5.9M580.4,689.1v5.9M578.1,693.8h5.9M581.0,690.9v5.9M580.4,694.1h5.9M583.3,691.2v5.9M582.7,694.3h5.9M585.6,691.3v5.9M583.3,696.0h5.9M586.2,693.0v5.9M585.6,696.2h5.9M588.5,693.2v5.9M587.9,697.9h5.9M590.9,694.9v5.9M590.3,698.0h5.9M593.2,695.1v5.9M590.9,698.2h5.9M593.8,695.3v5.9M593.2,699.9h5.9M596.1,697.0v5.9M595.5,700.1h5.9M598.5,697.2v5.9M596.1,701.9h5.9M599.0,699.0v5.9M598.1,702.6h5.9M601.0,699.7v5.9M600.1,703.3h5.9M603.1,700.3v5.9M602.2,705.5h5.9M605.1,702.5v5.9M602.5,706.1h5.9M605.4,703.2v5.9M604.5,708.3h5.9M607.4,705.4v5.9M606.5,709.0h5.9M609.5,706.1v5.9M606.8,709.7h5.9M609.7,706.8v5.9M608.9,711.8h5.9M611.8,708.9v5.9M611.1,712.3h5.9M614.0,709.3v5.9M613.3,714.2h5.9M616.2,711.3v5.9M613.8,714.6h5.9M616.7,711.7v5.9M616.0,715.1h5.9M618.9,712.1v5.9M618.2,717.0h5.9M621.1,714.1v5.9M618.7,717.4h5.9M621.6,714.5v5.9M621.0,719.0h5.9M624.0,716.1v5.9M623.4,719.1h5.9M626.3,716.2v5.9M625.8,719.2h5.9M628.7,716.3v5.9M626.4,720.9h5.9M629.3,717.9v5.9M628.7,721.0h5.9M631.7,718.1v5.9M631.0,722.8h5.9M633.9,719.9v5.9M631.5,723.3h5.9M634.4,720.3v5.9M633.7,723.7h5.9M636.6,720.8v5.9M635.9,725.6h5.9M638.8,722.7v5.9M638.1,726.0h5.9M641.0,723.1v5.9M638.6,728.0h5.9M641.5,725.0v5.9M641.0,727.7h5.9M643.9,724.8v5.9M643.5,727.3h5.9M646.4,724.3v5.9M644.3,728.3h5.9M647.2,725.4v5.9M646.8,727.9h5.9M649.7,725.0v5.9M649.2,728.9h5.9M652.2,726.0v5.9M651.7,728.5h5.9M654.7,725.6v5.9M652.5,728.0h5.9M655.4,725.1v5.9M654.9,729.3h5.9M657.9,726.4v5.9M657.4,729.3h5.9M660.3,726.4v5.9M658.0,730.8h5.9M660.9,727.8v5.9M660.4,730.7h5.9M663.4,727.8v5.9M662.9,730.7h5.9M665.8,727.8v5.9" stroke="#2a9e48" stroke-width="1.6" fill="none"/>
<polyline points="666.9,731.7 689.3,733.8 691.3,741.9 695.4,750.1 697.5,759.2 735.2,759.2" fill="none" stroke="#30b04c" stroke-width="1.4" stroke-linejoin="round" stroke-linecap="butt" opacity="1"/>
<path d="M669.5,732.5H674.5M672.0,730.0V735.0" stroke="#30b04c" stroke-width="1.4" fill="none"/>
<path d="M673.5,733.0H678.5M676.0,730.5V735.5" stroke="#30b04c" stroke-width="1.4" fill="none"/>
<path d="M679.5,733.3H684.5M682.0,730.8V735.8" stroke="#30b04c" stroke-width="1.4" fill="none"/>
<path d="M683.5,733.5H688.5M686.0,731.0V736.0" stroke="#30b04c" stroke-width="1.4" fill="none"/>
<path d="M689.5,745.0H694.5M692.0,742.5V747.5" stroke="#30b04c" stroke-width="1.4" fill="none"/>
<path d="M692.5,750.0H697.5M695.0,747.5V752.5" stroke="#30b04c" stroke-width="1.4" fill="none"/>
<path d="M697.5,759.2H702.5M700.0,756.7V761.7" stroke="#30b04c" stroke-width="1.4" fill="none"/>
<path d="M703.5,759.2H708.5M706.0,756.7V761.7" stroke="#30b04c" stroke-width="1.4" fill="none"/>
<path d="M707.5,759.2H712.5M710.0,756.7V761.7" stroke="#30b04c" stroke-width="1.4" fill="none"/>
<path d="M712.5,759.2H717.5M715.0,756.7V761.7" stroke="#30b04c" stroke-width="1.4" fill="none"/>
<path d="M715.5,759.2H720.5M718.0,756.7V761.7" stroke="#30b04c" stroke-width="1.4" fill="none"/>
<path d="M717.5,759.2H722.5M720.0,756.7V761.7" stroke="#30b04c" stroke-width="1.4" fill="none"/>
<path d="M722.5,759.2H727.5M725.0,756.7V761.7" stroke="#30b04c" stroke-width="1.4" fill="none"/>
<path d="M730.5,759.2H735.5M733.0,756.7V761.7" stroke="#30b04c" stroke-width="1.4" fill="none"/>
<rect x="468.80" y="638.60" width="310.20" height="289.80" fill="none" stroke="#4a4a4a" stroke-width="1.6"/>
<line x1="483.90" y1="928.40" x2="483.90" y2="940.90" stroke="#4a4a4a" stroke-width="1.6"/>
<text transform="translate(479.02,958.20) scale(0.17599,0.18143)" font-size="100" font-weight="bold" fill="#111" stroke="#111" stroke-width="1.96">0</text>
<line x1="530.53" y1="928.40" x2="530.53" y2="940.90" stroke="#4a4a4a" stroke-width="1.6"/>
<text transform="translate(525.69,958.20) scale(0.17599,0.18143)" font-size="100" font-weight="bold" fill="#111" stroke="#111" stroke-width="1.96">2</text>
<line x1="577.17" y1="928.40" x2="577.17" y2="940.90" stroke="#4a4a4a" stroke-width="1.6"/>
<text transform="translate(572.20,958.20) scale(0.17599,0.18143)" font-size="100" font-weight="bold" fill="#111" stroke="#111" stroke-width="1.96">4</text>
<line x1="623.80" y1="928.40" x2="623.80" y2="940.90" stroke="#4a4a4a" stroke-width="1.6"/>
<text transform="translate(618.92,958.20) scale(0.17599,0.18143)" font-size="100" font-weight="bold" fill="#111" stroke="#111" stroke-width="1.96">6</text>
<line x1="670.43" y1="928.40" x2="670.43" y2="940.90" stroke="#4a4a4a" stroke-width="1.6"/>
<text transform="translate(665.55,958.20) scale(0.17599,0.18143)" font-size="100" font-weight="bold" fill="#111" stroke="#111" stroke-width="1.96">8</text>
<line x1="717.07" y1="928.40" x2="717.07" y2="940.90" stroke="#4a4a4a" stroke-width="1.6"/>
<text transform="translate(707.12,958.20) scale(0.17599,0.18143)" font-size="100" font-weight="bold" fill="#111" stroke="#111" stroke-width="1.96">10</text>
<line x1="763.70" y1="928.40" x2="763.70" y2="940.90" stroke="#4a4a4a" stroke-width="1.6"/>
<text transform="translate(753.76,958.20) scale(0.17599,0.18143)" font-size="100" font-weight="bold" fill="#111" stroke="#111" stroke-width="1.96">12</text>
<line x1="456.40" y1="914.10" x2="468.80" y2="914.10" stroke="#4a4a4a" stroke-width="1.6"/>
<text transform="translate(431.25,922.20) scale(0.18186,0.19143)" font-size="100" font-weight="bold" fill="#111" stroke="#111" stroke-width="1.88">0.0</text>
<line x1="456.40" y1="861.86" x2="468.80" y2="861.86" stroke="#4a4a4a" stroke-width="1.6"/>
<text transform="translate(431.25,869.96) scale(0.18186,0.19143)" font-size="100" font-weight="bold" fill="#111" stroke="#111" stroke-width="1.88">0.2</text>
<line x1="456.40" y1="809.62" x2="468.80" y2="809.62" stroke="#4a4a4a" stroke-width="1.6"/>
<text transform="translate(430.61,817.72) scale(0.18186,0.19143)" font-size="100" font-weight="bold" fill="#111" stroke="#111" stroke-width="1.88">0.4</text>
<line x1="456.40" y1="757.38" x2="468.80" y2="757.38" stroke="#4a4a4a" stroke-width="1.6"/>
<text transform="translate(431.16,765.48) scale(0.18186,0.19143)" font-size="100" font-weight="bold" fill="#111" stroke="#111" stroke-width="1.88">0.6</text>
<line x1="456.40" y1="705.14" x2="468.80" y2="705.14" stroke="#4a4a4a" stroke-width="1.6"/>
<text transform="translate(431.07,713.24) scale(0.18186,0.19143)" font-size="100" font-weight="bold" fill="#111" stroke="#111" stroke-width="1.88">0.8</text>
<line x1="456.40" y1="652.90" x2="468.80" y2="652.90" stroke="#4a4a4a" stroke-width="1.6"/>
<text transform="translate(431.25,661.00) scale(0.18186,0.19143)" font-size="100" font-weight="bold" fill="#111" stroke="#111" stroke-width="1.88">1.0</text>
<text transform="translate(418.60,894.35) rotate(-90) scale(0.18827,0.18621)" font-size="100" font-weight="bold" fill="#111" stroke="#111" stroke-width="1.87">CVD cumulative Survival</text>
<text transform="translate(518.72,986.30) scale(0.18441,0.17429)" font-size="100" font-weight="bold" fill="#111" stroke="#111" stroke-width="1.95">Time of follow-up(years)</text>
<text transform="translate(405.57,626.80) scale(0.31220,0.31014)" font-size="100" font-weight="bold" fill="#000" stroke="#000" stroke-width="1.12">D</text>
<text transform="translate(655.52,676.30) scale(0.18111,0.17571)" font-size="100" font-weight="bold" fill="#111" stroke="#111" stroke-width="1.96">PNI=0</text>
<text transform="translate(550.48,722.60) scale(0.17238,0.17571)" font-size="100" font-weight="bold" fill="#111" stroke="#111" stroke-width="2.01">PNI=1</text>
<text transform="translate(504.67,874.20) scale(0.18997,0.17681)" font-size="100" font-weight="bold" fill="#111" stroke="#111" stroke-width="1.91">Log-rank test,</text>
<text transform="translate(527.10,900.10) scale(0.18497,0.18551)" font-size="100" font-weight="bold" fill="#111" stroke="#111" stroke-width="1.89">P&lt;0.001</text>
<polyline points="88.3,1240.2 102.6,1242.3 123.0,1247.4 137.2,1253.5 157.6,1262.7 178.0,1274.9 198.4,1286.1 214.7,1296.3 222.0,1298.3 234.2,1308.5 246.5,1319.7 256.7,1320.8 270.9,1335.0" fill="none" stroke="#3a4aa6" stroke-width="4.64" stroke-linejoin="round" stroke-linecap="butt" opacity="1"/>
<path d="M86.3,1240.8h7.5M90.0,1237.0v7.5M88.7,1240.5h7.5M92.5,1236.7v7.5M91.2,1241.7h7.5M95.0,1237.9v7.5M91.9,1241.4h7.5M95.7,1237.6v7.5M94.4,1241.1h7.5M98.2,1237.3v7.5M96.9,1242.2h7.5M100.7,1238.5v7.5M97.6,1241.9h7.5M101.4,1238.2v7.5M100.1,1243.3h7.5M103.9,1239.5v7.5M102.5,1243.2h7.5M106.3,1239.4v7.5M105.0,1243.0h7.5M108.7,1239.3v7.5M105.7,1244.4h7.5M109.4,1240.7v7.5M108.1,1244.3h7.5M111.9,1240.5v7.5M110.5,1245.7h7.5M114.3,1241.9v7.5M111.2,1245.6h7.5M115.0,1241.8v7.5M113.7,1245.5h7.5M117.4,1241.7v7.5M116.1,1246.9h7.5M119.9,1243.1v7.5M118.5,1246.7h7.5M122.3,1243.0v7.5M119.2,1248.2h7.5M123.0,1244.4v7.5M121.5,1248.4h7.5M125.3,1244.6v7.5M123.9,1248.6h7.5M127.7,1244.8v7.5M124.5,1250.3h7.5M128.2,1246.5v7.5M126.8,1250.5h7.5M130.6,1246.7v7.5M129.1,1252.2h7.5M132.9,1248.4v7.5M131.5,1252.3h7.5M135.3,1248.6v7.5M132.1,1252.5h7.5M135.8,1248.8v7.5M134.4,1254.2h7.5M138.2,1250.5v7.5M136.7,1254.5h7.5M140.5,1250.7v7.5M137.3,1256.2h7.5M141.1,1252.4v7.5M139.6,1256.4h7.5M143.4,1252.6v7.5M141.9,1256.6h7.5M145.7,1252.9v7.5M144.3,1258.3h7.5M148.0,1254.6v7.5M144.8,1258.6h7.5M148.6,1254.8v7.5M147.2,1260.3h7.5M150.9,1256.5v7.5M149.5,1260.5h7.5M153.3,1256.7v7.5M150.1,1260.7h7.5M153.8,1257.0v7.5M152.4,1262.5h7.5M156.2,1258.7v7.5M154.7,1262.8h7.5M158.4,1259.0v7.5M156.9,1264.7h7.5M160.7,1260.9v7.5M157.4,1265.1h7.5M161.1,1261.3v7.5M159.6,1265.5h7.5M163.3,1261.8v7.5M161.8,1267.5h7.5M165.6,1263.7v7.5M162.3,1267.9h7.5M166.0,1264.1v7.5M164.5,1269.8h7.5M168.2,1266.0v7.5M166.7,1270.2h7.5M170.5,1266.5v7.5M168.9,1270.7h7.5M172.7,1266.9v7.5M169.4,1272.6h7.5M173.1,1268.8v7.5M171.6,1273.0h7.5M175.4,1269.2v7.5M173.8,1274.9h7.5M177.6,1271.2v7.5M174.3,1275.3h7.5M178.1,1271.6v7.5M176.5,1275.7h7.5M180.3,1271.9v7.5M178.8,1277.6h7.5M182.6,1273.8v7.5M181.0,1277.9h7.5M184.8,1274.2v7.5M181.5,1279.8h7.5M185.3,1276.0v7.5M183.8,1280.2h7.5M187.6,1276.4v7.5M186.1,1280.5h7.5M189.8,1276.7v7.5M186.6,1282.4h7.5M190.3,1278.6v7.5M188.8,1282.7h7.5M192.6,1279.0v7.5M191.1,1284.6h7.5M194.8,1280.8v7.5M193.3,1285.0h7.5M197.1,1281.2v7.5M193.8,1285.3h7.5M197.6,1281.6v7.5M196.0,1287.3h7.5M199.8,1283.5v7.5M198.2,1287.7h7.5M202.0,1284.0v7.5M198.7,1289.7h7.5M202.4,1285.9v7.5M200.9,1290.2h7.5M204.6,1286.4v7.5M203.1,1290.6h7.5M206.8,1286.8v7.5M205.3,1292.6h7.5M209.0,1288.8v7.5M205.7,1293.0h7.5M209.5,1289.3v7.5M207.9,1295.0h7.5M211.7,1291.2v7.5M210.1,1295.5h7.5M213.9,1291.7v7.5M210.6,1295.8h7.5M214.4,1292.0v7.5M213.0,1297.2h7.5M216.8,1293.5v7.5M215.4,1297.2h7.5M219.2,1293.4v7.5M217.9,1298.6h7.5M221.6,1294.8v7.5M218.4,1298.8h7.5M222.1,1295.1v7.5M220.4,1299.5h7.5M224.2,1295.8v7.5M222.4,1301.7h7.5M226.2,1297.9v7.5M222.7,1302.4h7.5M226.5,1298.6v7.5M224.8,1304.6h7.5M228.5,1300.8v7.5M226.8,1305.3h7.5M230.6,1301.5v7.5M228.8,1305.9h7.5M232.6,1302.2v7.5M229.1,1308.1h7.5M232.9,1304.4v7.5M231.1,1308.8h7.5M234.9,1305.1v7.5M233.1,1311.1h7.5M236.9,1307.3v7.5M233.3,1311.8h7.5M237.1,1308.1v7.5M235.3,1312.6h7.5M239.1,1308.8v7.5M237.3,1314.8h7.5M241.1,1311.1v7.5M239.3,1315.6h7.5M243.0,1311.8v7.5M239.5,1317.8h7.5M243.3,1314.0v7.5M241.5,1318.6h7.5M245.2,1314.8v7.5M243.5,1319.1h7.5M247.3,1315.4v7.5M244.3,1320.2h7.5M248.0,1316.5v7.5M246.8,1319.9h7.5M250.5,1316.1v7.5M249.3,1321.0h7.5M253.0,1317.2v7.5M251.7,1320.6h7.5M255.5,1316.8v7.5M252.5,1320.2h7.5M256.2,1316.5v7.5M254.4,1322.5h7.5M258.1,1318.8v7.5M256.3,1323.4h7.5M260.1,1319.6v7.5M256.5,1325.7h7.5M260.2,1321.9v7.5M258.4,1326.5h7.5M262.1,1322.7v7.5M260.3,1327.3h7.5M264.1,1323.5v7.5M262.2,1329.6h7.5M266.0,1325.9v7.5M262.4,1330.4h7.5M266.1,1326.7v7.5M264.3,1332.7h7.5M268.0,1329.0v7.5M266.2,1333.6h7.5M270.0,1329.8v7.5M266.4,1334.4h7.5M270.1,1330.6v7.5" stroke="#34449c" stroke-width="1.6" fill="none"/>
<polyline points="270.9,1335.0 287.2,1340.1 293.3,1347.3 301.5,1363.6 311.7,1364.6" fill="none" stroke="#3a4aa6" stroke-width="2.4000000000000004" stroke-linejoin="round" stroke-linecap="butt" opacity="1"/>
<path d="M270.6,1335.9h3.9M272.6,1333.9v3.9M273.0,1335.9h3.9M275.0,1333.9v3.9M275.4,1337.4h3.9M277.4,1335.4v3.9M276.1,1337.4h3.9M278.0,1335.4v3.9M278.5,1337.4h3.9M280.4,1335.4v3.9M280.9,1338.9h3.9M282.9,1336.9v3.9M281.6,1338.9h3.9M283.5,1336.9v3.9M284.0,1340.4h3.9M285.9,1338.4v3.9M286.1,1340.8h3.9M288.0,1338.9v3.9M287.9,1341.7h3.9M289.8,1339.8v3.9M287.9,1344.2h3.9M289.9,1342.2v3.9M289.7,1345.1h3.9M291.7,1343.1v3.9M291.5,1347.5h3.9M293.5,1345.6v3.9M291.3,1348.6h3.9M293.2,1346.7v3.9M292.7,1349.8h3.9M294.6,1347.9v3.9M294.1,1352.5h3.9M296.0,1350.5v3.9M295.5,1353.7h3.9M297.4,1351.7v3.9M295.1,1356.4h3.9M297.1,1354.4v3.9M296.5,1357.6h3.9M298.5,1355.6v3.9M297.9,1358.7h3.9M299.9,1356.8v3.9M297.6,1361.4h3.9M299.5,1359.5v3.9M299.0,1362.6h3.9M300.9,1360.7v3.9M301.0,1364.3h3.9M303.0,1362.4v3.9M303.5,1363.9h3.9M305.5,1362.0v3.9M304.3,1363.5h3.9M306.2,1361.6v3.9M306.8,1364.6h3.9M308.7,1362.7v3.9M309.2,1364.2h3.9M311.2,1362.3v3.9" stroke="#34449c" stroke-width="1.6" fill="none"/>
<polyline points="311.7,1364.6 313.7,1374.7 343.3,1374.7" fill="none" stroke="#3a4aa6" stroke-width="1.4" stroke-linejoin="round" stroke-linecap="butt" opacity="1"/>
<path d="M298.5,1363.0H303.5M301.0,1360.5V1365.5" stroke="#3a4aa6" stroke-width="1.4" fill="none"/>
<path d="M308.5,1365.0H313.5M311.0,1362.5V1367.5" stroke="#3a4aa6" stroke-width="1.4" fill="none"/>
<path d="M313.5,1374.7H318.5M316.0,1372.2V1377.2" stroke="#3a4aa6" stroke-width="1.4" fill="none"/>
<path d="M315.5,1374.7H320.5M318.0,1372.2V1377.2" stroke="#3a4aa6" stroke-width="1.4" fill="none"/>
<path d="M316.5,1374.7H321.5M319.0,1372.2V1377.2" stroke="#3a4aa6" stroke-width="1.4" fill="none"/>
<path d="M319.5,1374.7H324.5M322.0,1372.2V1377.2" stroke="#3a4aa6" stroke-width="1.4" fill="none"/>
<path d="M325.5,1374.7H330.5M328.0,1372.2V1377.2" stroke="#3a4aa6" stroke-width="1.4" fill="none"/>
<path d="M336.5,1374.7H341.5M339.0,1372.2V1377.2" stroke="#3a4aa6" stroke-width="1.4" fill="none"/>
<polyline points="92.4,1241.3 98.5,1248.4 106.7,1263.7 116.8,1280.0 131.1,1298.3 141.3,1305.5 153.5,1320.8 163.7,1331.0 176.0,1343.2 188.2,1357.5 198.4,1372.7 202.5,1377.2 214.7,1389.4 222.0,1397.6 232.2,1403.7 244.4,1413.9 252.6,1414.9 260.7,1420.0" fill="none" stroke="#30b04c" stroke-width="2.2" stroke-linejoin="round" stroke-linecap="butt" opacity="1"/>
<path d="M91.2,1243.6h5.2M93.8,1241.0v5.2M93.4,1244.9h5.2M96.0,1242.3v5.2M95.6,1247.8h5.2M98.2,1245.2v5.2M95.9,1249.3h5.2M98.5,1246.7v5.2M97.6,1251.0h5.2M100.2,1248.4v5.2M99.3,1254.2h5.2M101.9,1251.6v5.2M99.3,1255.9h5.2M101.9,1253.3v5.2M101.1,1259.1h5.2M103.7,1256.5v5.2M102.8,1260.8h5.2M105.4,1258.2v5.2M104.5,1262.5h5.2M107.1,1259.9v5.2M104.6,1265.6h5.2M107.2,1263.0v5.2M106.5,1267.2h5.2M109.1,1264.6v5.2M108.3,1270.3h5.2M110.9,1267.7v5.2M108.4,1271.9h5.2M111.0,1269.3v5.2M110.3,1273.5h5.2M112.9,1270.9v5.2M112.2,1276.6h5.2M114.8,1274.0v5.2M114.1,1278.3h5.2M116.7,1275.7v5.2M114.3,1281.3h5.2M116.9,1278.7v5.2M116.4,1282.8h5.2M119.0,1280.2v5.2M118.5,1284.2h5.2M121.1,1281.6v5.2M118.8,1287.2h5.2M121.4,1284.6v5.2M120.9,1288.6h5.2M123.5,1286.0v5.2M123.0,1291.6h5.2M125.6,1289.0v5.2M125.1,1293.0h5.2M127.7,1290.4v5.2M125.5,1294.5h5.2M128.1,1291.9v5.2M127.6,1297.4h5.2M130.2,1294.8v5.2M129.9,1298.6h5.2M132.5,1296.0v5.2M130.8,1301.0h5.2M133.4,1298.4v5.2M133.4,1301.9h5.2M136.0,1299.3v5.2M136.0,1302.8h5.2M138.6,1300.2v5.2M138.6,1305.2h5.2M141.2,1302.6v5.2M139.2,1306.4h5.2M141.8,1303.8v5.2M141.3,1309.4h5.2M143.9,1306.8v5.2M143.4,1310.8h5.2M146.0,1308.2v5.2M143.8,1312.2h5.2M146.4,1309.6v5.2M145.9,1315.2h5.2M148.5,1312.6v5.2M148.0,1316.6h5.2M150.6,1314.0v5.2M150.2,1319.5h5.2M152.8,1316.9v5.2M150.6,1321.0h5.2M153.2,1318.4v5.2M152.9,1322.2h5.2M155.5,1319.6v5.2M155.2,1324.9h5.2M157.8,1322.3v5.2M155.8,1326.2h5.2M158.4,1323.6v5.2M158.2,1328.9h5.2M160.8,1326.3v5.2M160.5,1330.2h5.2M163.1,1327.6v5.2M162.8,1331.4h5.2M165.4,1328.8v5.2M163.4,1334.1h5.2M166.0,1331.5v5.2M165.8,1335.3h5.2M168.4,1332.7v5.2M168.1,1338.1h5.2M170.7,1335.5v5.2M168.7,1339.3h5.2M171.3,1336.7v5.2M171.1,1340.5h5.2M173.7,1337.9v5.2M173.4,1343.3h5.2M176.0,1340.7v5.2M175.6,1344.6h5.2M178.2,1342.0v5.2M176.1,1347.5h5.2M178.7,1344.9v5.2M178.3,1348.9h5.2M180.9,1346.3v5.2M180.4,1350.3h5.2M183.0,1347.7v5.2M180.9,1353.1h5.2M183.5,1350.5v5.2M183.1,1354.5h5.2M185.7,1351.9v5.2M185.3,1357.4h5.2M187.9,1354.8v5.2M187.3,1358.9h5.2M189.9,1356.3v5.2M187.5,1360.5h5.2M190.1,1357.9v5.2M189.4,1363.5h5.2M192.0,1360.9v5.2M191.4,1365.1h5.2M194.0,1362.5v5.2M191.6,1368.1h5.2M194.2,1365.5v5.2M193.5,1369.7h5.2M196.1,1367.1v5.2M195.5,1371.2h5.2M198.1,1368.6v5.2M197.6,1374.2h5.2M200.2,1371.6v5.2M198.1,1375.5h5.2M200.7,1372.9v5.2M200.4,1378.3h5.2M203.0,1375.7v5.2M202.7,1379.5h5.2M205.3,1376.9v5.2M203.3,1380.8h5.2M205.9,1378.2v5.2M205.7,1383.5h5.2M208.3,1380.9v5.2M208.0,1384.7h5.2M210.6,1382.1v5.2M210.3,1387.5h5.2M212.9,1384.9v5.2M210.9,1388.7h5.2M213.5,1386.1v5.2M213.2,1390.0h5.2M215.8,1387.4v5.2M215.4,1392.9h5.2M218.0,1390.3v5.2M215.9,1394.2h5.2M218.5,1391.6v5.2M218.1,1397.0h5.2M220.7,1394.4v5.2M220.6,1398.1h5.2M223.2,1395.5v5.2M223.3,1398.9h5.2M225.9,1396.3v5.2M224.3,1401.1h5.2M226.9,1398.5v5.2M227.0,1401.8h5.2M229.6,1399.2v5.2M229.7,1404.1h5.2M232.3,1401.5v5.2M230.5,1405.1h5.2M233.1,1402.5v5.2M233.0,1406.2h5.2M235.6,1403.6v5.2M235.5,1408.7h5.2M238.1,1406.1v5.2M238.0,1409.8h5.2M240.6,1407.2v5.2M238.7,1412.4h5.2M241.3,1409.8v5.2M241.2,1413.4h5.2M243.8,1410.8v5.2M244.2,1413.5h5.2M246.8,1410.9v5.2M245.5,1414.7h5.2M248.1,1412.1v5.2M248.6,1414.5h5.2M251.2,1411.9v5.2M251.4,1416.3h5.2M254.0,1413.7v5.2M254.1,1417.0h5.2M256.7,1414.4v5.2M255.1,1417.8h5.2M257.7,1415.2v5.2M257.8,1420.1h5.2M260.4,1417.5v5.2" stroke="#2a9e48" stroke-width="1.5" fill="none"/>
<polyline points="260.7,1420.0 262.8,1428.6 321.9,1428.6" fill="none" stroke="#30b04c" stroke-width="1.4" stroke-linejoin="round" stroke-linecap="butt" opacity="1"/>
<path d="M260.5,1428.6H265.5M263.0,1426.1V1431.1" stroke="#30b04c" stroke-width="1.4" fill="none"/>
<path d="M262.5,1428.6H267.5M265.0,1426.1V1431.1" stroke="#30b04c" stroke-width="1.4" fill="none"/>
<path d="M263.5,1428.6H268.5M266.0,1426.1V1431.1" stroke="#30b04c" stroke-width="1.4" fill="none"/>
<path d="M278.5,1428.6H283.5M281.0,1426.1V1431.1" stroke="#30b04c" stroke-width="1.4" fill="none"/>
<path d="M284.5,1428.6H289.5M287.0,1426.1V1431.1" stroke="#30b04c" stroke-width="1.4" fill="none"/>
<path d="M286.5,1428.6H291.5M289.0,1426.1V1431.1" stroke="#30b04c" stroke-width="1.4" fill="none"/>
<path d="M287.5,1428.6H292.5M290.0,1426.1V1431.1" stroke="#30b04c" stroke-width="1.4" fill="none"/>
<path d="M318.5,1428.6H323.5M321.0,1426.1V1431.1" stroke="#30b04c" stroke-width="1.4" fill="none"/>
<polyline points="92.4,1242.3 96.5,1253.5 99.5,1273.9 102.6,1286.1 108.7,1298.3 112.8,1312.6 118.9,1326.9 123.0,1341.1 129.1,1351.3 133.2,1365.6 135.2,1372.1 149.5,1372.1 150.5,1381.3 152.5,1389.4 180.0,1389.4 181.0,1397.6 189.2,1397.6 189.2,1407.8 214.7,1407.8 215.7,1415.9 218.8,1428.2 224.0,1438.3 250.5,1438.3 251.6,1453.6 305.6,1453.6 306.0,1476.7 336.1,1476.7" fill="none" stroke="#d8d4b2" stroke-width="1.2" stroke-linejoin="round" stroke-linecap="butt" opacity="1"/>
<path d="M91.6,1245.4h3.2M93.2,1243.8v3.2M93.1,1247.6h3.2M94.7,1246.0v3.2M94.6,1251.4h3.2M96.2,1249.8v3.2M94.4,1253.6h3.2M96.0,1252.0v3.2M95.3,1255.9h3.2M96.9,1254.3v3.2M96.3,1259.8h3.2M97.9,1258.2v3.2M95.5,1262.2h3.2M97.1,1260.6v3.2M96.4,1266.0h3.2M98.0,1264.4v3.2M97.3,1268.4h3.2M98.9,1266.8v3.2M98.3,1270.8h3.2M99.9,1269.2v3.2M97.5,1274.6h3.2M99.1,1273.0v3.2M98.8,1276.9h3.2M100.4,1275.3v3.2M100.0,1280.8h3.2M101.6,1279.2v3.2M99.5,1283.1h3.2M101.1,1281.5v3.2M100.7,1285.4h3.2M102.3,1283.8v3.2M102.5,1289.0h3.2M104.1,1287.4v3.2M104.4,1291.0h3.2M106.0,1289.4v3.2M104.5,1294.6h3.2M106.1,1293.0v3.2M106.3,1296.7h3.2M107.9,1295.1v3.2M107.9,1298.9h3.2M109.5,1297.3v3.2M107.5,1302.7h3.2M109.1,1301.1v3.2M108.8,1304.9h3.2M110.4,1303.3v3.2M110.2,1308.7h3.2M111.8,1307.1v3.2M111.5,1311.0h3.2M113.1,1309.4v3.2M111.2,1313.2h3.2M112.8,1311.6v3.2M112.9,1316.9h3.2M114.5,1315.3v3.2M114.6,1319.1h3.2M116.2,1317.5v3.2M114.5,1322.7h3.2M116.1,1321.1v3.2M116.2,1324.9h3.2M117.8,1323.3v3.2M117.8,1327.1h3.2M119.4,1325.5v3.2M119.1,1330.9h3.2M120.7,1329.3v3.2M118.7,1333.1h3.2M120.3,1331.5v3.2M120.0,1336.9h3.2M121.6,1335.3v3.2M121.4,1339.2h3.2M123.0,1337.6v3.2M121.2,1341.4h3.2M122.8,1339.8v3.2M123.2,1344.9h3.2M124.8,1343.3v3.2M125.3,1346.8h3.2M126.9,1345.2v3.2M127.3,1350.3h3.2M128.9,1348.7v3.2M127.3,1352.4h3.2M128.9,1350.8v3.2M128.6,1354.7h3.2M130.2,1353.1v3.2M130.0,1358.5h3.2M131.6,1356.9v3.2M129.5,1360.7h3.2M131.1,1359.1v3.2M130.9,1364.5h3.2M132.5,1362.9v3.2M132.2,1366.8h3.2M133.8,1365.2v3.2M133.6,1369.1h3.2M135.2,1367.5v3.2M149.1,1384.5h3.2M150.7,1382.9v3.2M150.3,1386.8h3.2M151.9,1385.2v3.2M215.3,1419.4h3.2M216.9,1417.8v3.2M214.8,1421.7h3.2M216.4,1420.1v3.2M216.0,1424.0h3.2M217.6,1422.4v3.2M217.3,1427.8h3.2M218.9,1426.2v3.2M219.0,1430.0h3.2M220.6,1428.4v3.2M219.1,1433.5h3.2M220.7,1431.9v3.2M221.0,1435.6h3.2M222.6,1434.0v3.2M222.9,1437.7h3.2M224.5,1436.1v3.2" stroke="#d8d4b2" stroke-width="0.9" fill="none"/>
<path d="M227.5,1438.3H232.5M230.0,1435.8V1440.8" stroke="#d8d4b2" stroke-width="1.4" fill="none"/>
<path d="M244.5,1438.3H249.5M247.0,1435.8V1440.8" stroke="#d8d4b2" stroke-width="1.4" fill="none"/>
<path d="M260.5,1453.6H265.5M263.0,1451.1V1456.1" stroke="#d8d4b2" stroke-width="1.4" fill="none"/>
<path d="M332.5,1476.7H337.5M335.0,1474.2V1479.2" stroke="#d8d4b2" stroke-width="1.4" fill="none"/>
<rect x="71.00" y="1225.80" width="309.60" height="287.80" fill="none" stroke="#4a4a4a" stroke-width="1.6"/>
<line x1="86.30" y1="1513.60" x2="86.30" y2="1525.60" stroke="#4a4a4a" stroke-width="1.6"/>
<text transform="translate(81.49,1542.90) scale(0.17321,0.17857)" font-size="100" font-weight="bold" fill="#111" stroke="#111" stroke-width="1.99">0</text>
<line x1="132.82" y1="1513.60" x2="132.82" y2="1525.60" stroke="#4a4a4a" stroke-width="1.6"/>
<text transform="translate(128.05,1542.90) scale(0.17321,0.17857)" font-size="100" font-weight="bold" fill="#111" stroke="#111" stroke-width="1.99">2</text>
<line x1="179.33" y1="1513.60" x2="179.33" y2="1525.60" stroke="#4a4a4a" stroke-width="1.6"/>
<text transform="translate(174.44,1542.90) scale(0.17321,0.17857)" font-size="100" font-weight="bold" fill="#111" stroke="#111" stroke-width="1.99">4</text>
<line x1="225.85" y1="1513.60" x2="225.85" y2="1525.60" stroke="#4a4a4a" stroke-width="1.6"/>
<text transform="translate(221.04,1542.90) scale(0.17321,0.17857)" font-size="100" font-weight="bold" fill="#111" stroke="#111" stroke-width="1.99">6</text>
<line x1="272.37" y1="1513.60" x2="272.37" y2="1525.60" stroke="#4a4a4a" stroke-width="1.6"/>
<text transform="translate(267.56,1542.90) scale(0.17321,0.17857)" font-size="100" font-weight="bold" fill="#111" stroke="#111" stroke-width="1.99">8</text>
<line x1="318.88" y1="1513.60" x2="318.88" y2="1525.60" stroke="#4a4a4a" stroke-width="1.6"/>
<text transform="translate(309.10,1542.90) scale(0.17321,0.17857)" font-size="100" font-weight="bold" fill="#111" stroke="#111" stroke-width="1.99">10</text>
<line x1="365.40" y1="1513.60" x2="365.40" y2="1525.60" stroke="#4a4a4a" stroke-width="1.6"/>
<text transform="translate(355.61,1542.90) scale(0.17321,0.17857)" font-size="100" font-weight="bold" fill="#111" stroke="#111" stroke-width="1.99">12</text>
<line x1="58.30" y1="1499.20" x2="71.00" y2="1499.20" stroke="#4a4a4a" stroke-width="1.6"/>
<text transform="translate(32.95,1507.30) scale(0.18186,0.19143)" font-size="100" font-weight="bold" fill="#111" stroke="#111" stroke-width="1.88">0.0</text>
<line x1="58.30" y1="1447.32" x2="71.00" y2="1447.32" stroke="#4a4a4a" stroke-width="1.6"/>
<text transform="translate(32.95,1455.42) scale(0.18186,0.19143)" font-size="100" font-weight="bold" fill="#111" stroke="#111" stroke-width="1.88">0.2</text>
<line x1="58.30" y1="1395.44" x2="71.00" y2="1395.44" stroke="#4a4a4a" stroke-width="1.6"/>
<text transform="translate(32.31,1403.54) scale(0.18186,0.19143)" font-size="100" font-weight="bold" fill="#111" stroke="#111" stroke-width="1.88">0.4</text>
<line x1="58.30" y1="1343.56" x2="71.00" y2="1343.56" stroke="#4a4a4a" stroke-width="1.6"/>
<text transform="translate(32.86,1351.66) scale(0.18186,0.19143)" font-size="100" font-weight="bold" fill="#111" stroke="#111" stroke-width="1.88">0.6</text>
<line x1="58.30" y1="1291.68" x2="71.00" y2="1291.68" stroke="#4a4a4a" stroke-width="1.6"/>
<text transform="translate(32.77,1299.78) scale(0.18186,0.19143)" font-size="100" font-weight="bold" fill="#111" stroke="#111" stroke-width="1.88">0.8</text>
<line x1="58.30" y1="1239.80" x2="71.00" y2="1239.80" stroke="#4a4a4a" stroke-width="1.6"/>
<text transform="translate(32.95,1247.90) scale(0.18186,0.19143)" font-size="100" font-weight="bold" fill="#111" stroke="#111" stroke-width="1.88">1.0</text>
<text transform="translate(21.10,1490.35) rotate(-90) scale(0.18726,0.18621)" font-size="100" font-weight="bold" fill="#111" stroke="#111" stroke-width="1.87">Overall cumulative Survival</text>
<text transform="translate(121.52,1571.20) scale(0.18406,0.17571)" font-size="100" font-weight="bold" fill="#111" stroke="#111" stroke-width="1.95">Time of follow-up(years)</text>
<text transform="translate(9.57,1211.40) scale(0.29735,0.31449)" font-size="100" font-weight="bold" fill="#000" stroke="#000" stroke-width="1.14">E</text>
<text transform="translate(216.40,1289.20) scale(0.18485,0.16714)" font-size="100" font-weight="bold" fill="#111" stroke="#111" stroke-width="1.99">PI=0</text>
<text transform="translate(206.64,1361.50) scale(0.17845,0.17429)" font-size="100" font-weight="bold" fill="#111" stroke="#111" stroke-width="1.98">PI=1</text>
<text transform="translate(139.11,1419.00) scale(0.18232,0.17571)" font-size="100" font-weight="bold" fill="#111" stroke="#111" stroke-width="1.96">PI=2</text>
<text transform="translate(92.77,1459.70) scale(0.18935,0.16812)" font-size="100" font-weight="bold" fill="#111" stroke="#111" stroke-width="1.96">Log-rank test,</text>
<text transform="translate(115.20,1483.60) scale(0.18388,0.16812)" font-size="100" font-weight="bold" fill="#111" stroke="#111" stroke-width="1.99">P&lt;0.001</text>
<polyline points="482.3,1240.2 507.8,1242.3 528.1,1246.4 548.5,1251.5 568.9,1256.6 589.3,1261.7 609.7,1267.8 617.0,1269.8 629.2,1271.8 641.5,1276.9 651.7,1276.9" fill="none" stroke="#3a4aa6" stroke-width="4.64" stroke-linejoin="round" stroke-linecap="butt" opacity="1"/>
<path d="M480.3,1240.7h7.5M484.0,1236.9v7.5M482.8,1240.2h7.5M486.5,1236.5v7.5M485.3,1241.3h7.5M489.0,1237.5v7.5M486.0,1240.9h7.5M489.8,1237.1v7.5M488.5,1240.4h7.5M492.3,1236.7v7.5M491.0,1241.5h7.5M494.8,1237.7v7.5M491.7,1241.0h7.5M495.5,1237.3v7.5M494.2,1242.1h7.5M498.0,1238.3v7.5M496.7,1241.7h7.5M500.5,1237.9v7.5M499.2,1241.2h7.5M503.0,1237.5v7.5M500.0,1242.3h7.5M503.7,1238.5v7.5M502.4,1241.9h7.5M506.2,1238.1v7.5M504.9,1243.0h7.5M508.7,1239.2v7.5M505.6,1242.8h7.5M509.4,1239.0v7.5M508.1,1242.6h7.5M511.9,1238.8v7.5M510.6,1243.9h7.5M514.3,1240.1v7.5M513.0,1243.7h7.5M516.8,1239.9v7.5M513.7,1245.0h7.5M517.5,1241.2v7.5M516.2,1244.8h7.5M520.0,1241.0v7.5M518.7,1244.6h7.5M522.4,1240.8v7.5M519.4,1245.8h7.5M523.1,1242.1v7.5M521.8,1245.6h7.5M525.6,1241.9v7.5M524.3,1246.9h7.5M528.1,1243.2v7.5M526.7,1246.8h7.5M530.5,1243.0v7.5M527.4,1246.7h7.5M531.2,1242.9v7.5M529.9,1248.1h7.5M533.6,1244.3v7.5M532.3,1248.0h7.5M536.1,1244.2v7.5M533.0,1249.4h7.5M536.8,1245.6v7.5M535.4,1249.2h7.5M539.2,1245.5v7.5M537.9,1249.1h7.5M541.6,1245.4v7.5M540.3,1250.5h7.5M544.1,1246.7v7.5M541.0,1250.4h7.5M544.8,1246.6v7.5M543.4,1251.8h7.5M547.2,1248.0v7.5M545.9,1251.7h7.5M549.7,1247.9v7.5M546.6,1251.5h7.5M550.3,1247.8v7.5M549.0,1252.9h7.5M552.8,1249.2v7.5M551.5,1252.8h7.5M555.2,1249.0v7.5M553.9,1254.2h7.5M557.7,1250.4v7.5M554.6,1254.1h7.5M558.4,1250.3v7.5M557.0,1254.0h7.5M560.8,1250.2v7.5M559.5,1255.4h7.5M563.2,1251.6v7.5M560.2,1255.2h7.5M563.9,1251.5v7.5M562.6,1256.6h7.5M566.4,1252.9v7.5M565.0,1256.5h7.5M568.8,1252.7v7.5M567.5,1256.4h7.5M571.2,1252.6v7.5M568.2,1257.8h7.5M571.9,1254.0v7.5M570.6,1257.7h7.5M574.4,1253.9v7.5M573.0,1259.1h7.5M576.8,1255.3v7.5M573.7,1258.9h7.5M577.5,1255.2v7.5M576.2,1258.8h7.5M580.0,1255.1v7.5M578.6,1260.2h7.5M582.4,1256.4v7.5M581.1,1260.1h7.5M584.8,1256.3v7.5M581.8,1261.5h7.5M585.5,1257.7v7.5M584.2,1261.4h7.5M588.0,1257.6v7.5M586.6,1261.3h7.5M590.4,1257.5v7.5M587.3,1262.8h7.5M591.1,1259.0v7.5M589.7,1262.7h7.5M593.5,1259.0v7.5M592.1,1264.2h7.5M595.9,1260.4v7.5M594.5,1264.2h7.5M598.3,1260.4v7.5M595.2,1264.1h7.5M599.0,1260.4v7.5M597.6,1265.6h7.5M601.4,1261.8v7.5M600.0,1265.6h7.5M603.8,1261.8v7.5M600.7,1267.1h7.5M604.5,1263.3v7.5M603.1,1267.0h7.5M606.9,1263.3v7.5M605.5,1267.0h7.5M609.3,1263.2v7.5M608.0,1268.5h7.5M611.7,1264.7v7.5M608.6,1268.4h7.5M612.4,1264.6v7.5M611.1,1269.8h7.5M614.8,1266.0v7.5M613.5,1269.7h7.5M617.3,1266.0v7.5M614.2,1269.5h7.5M618.0,1265.7v7.5M616.7,1270.7h7.5M620.5,1266.9v7.5M619.2,1270.4h7.5M622.9,1266.7v7.5M621.6,1271.7h7.5M625.4,1267.9v7.5M622.4,1271.4h7.5M626.1,1267.6v7.5M624.8,1271.1h7.5M628.6,1267.3v7.5M627.2,1272.6h7.5M631.0,1268.9v7.5M627.8,1272.8h7.5M631.6,1269.0v7.5M630.2,1274.5h7.5M633.9,1270.7v7.5M632.5,1274.6h7.5M636.3,1270.9v7.5M634.9,1274.8h7.5M638.6,1271.0v7.5M635.5,1276.5h7.5M639.2,1272.7v7.5M637.8,1276.6h7.5M641.6,1272.8v7.5M640.3,1277.5h7.5M644.1,1273.7v7.5M641.1,1276.9h7.5M644.8,1273.1v7.5M643.6,1276.3h7.5M647.3,1272.5v7.5M646.1,1277.2h7.5M649.8,1273.4v7.5M648.6,1276.6h7.5M652.3,1272.8v7.5" stroke="#34449c" stroke-width="1.6" fill="none"/>
<polyline points="651.7,1276.9 654.7,1281.6 663.9,1282.0 665.9,1284.1 686.3,1284.1" fill="none" stroke="#3a4aa6" stroke-width="2.4000000000000004" stroke-linejoin="round" stroke-linecap="butt" opacity="1"/>
<path d="M650.6,1278.9h3.9M652.5,1276.9v3.9M652.2,1280.0h3.9M654.1,1278.0v3.9M653.9,1282.2h3.9M655.9,1280.3v3.9M654.7,1281.7h3.9M656.6,1279.8v3.9M657.2,1281.2h3.9M659.1,1279.2v3.9M659.7,1282.2h3.9M661.6,1280.2v3.9M660.4,1281.7h3.9M662.4,1279.7v3.9M662.5,1283.5h3.9M664.5,1281.5v3.9M664.5,1284.1h3.9M666.5,1282.1v3.9M667.0,1283.5h3.9M669.0,1281.5v3.9M667.8,1284.4h3.9M669.7,1282.4v3.9M670.3,1283.8h3.9M672.2,1281.8v3.9M672.8,1284.7h3.9M674.7,1282.7v3.9M673.5,1284.1h3.9M675.5,1282.1v3.9M676.0,1283.5h3.9M678.0,1281.5v3.9M678.5,1284.4h3.9M680.5,1282.4v3.9M681.0,1283.8h3.9M683.0,1281.8v3.9M681.8,1284.7h3.9M683.7,1282.7v3.9M684.3,1284.1h3.9M686.2,1282.1v3.9" stroke="#34449c" stroke-width="1.6" fill="none"/>
<polyline points="686.3,1284.1 688.3,1292.2 693.4,1297.3 694.5,1304.5 738.3,1304.5" fill="none" stroke="#3a4aa6" stroke-width="1.4" stroke-linejoin="round" stroke-linecap="butt" opacity="1"/>
<path d="M686.5,1292.0H691.5M689.0,1289.5V1294.5" stroke="#3a4aa6" stroke-width="1.4" fill="none"/>
<path d="M689.5,1297.0H694.5M692.0,1294.5V1299.5" stroke="#3a4aa6" stroke-width="1.4" fill="none"/>
<path d="M693.5,1304.5H698.5M696.0,1302.0V1307.0" stroke="#3a4aa6" stroke-width="1.4" fill="none"/>
<path d="M697.5,1304.5H702.5M700.0,1302.0V1307.0" stroke="#3a4aa6" stroke-width="1.4" fill="none"/>
<path d="M702.5,1304.5H707.5M705.0,1302.0V1307.0" stroke="#3a4aa6" stroke-width="1.4" fill="none"/>
<path d="M703.5,1304.5H708.5M706.0,1302.0V1307.0" stroke="#3a4aa6" stroke-width="1.4" fill="none"/>
<path d="M705.5,1304.5H710.5M708.0,1302.0V1307.0" stroke="#3a4aa6" stroke-width="1.4" fill="none"/>
<path d="M707.5,1304.5H712.5M710.0,1302.0V1307.0" stroke="#3a4aa6" stroke-width="1.4" fill="none"/>
<path d="M713.5,1304.5H718.5M716.0,1302.0V1307.0" stroke="#3a4aa6" stroke-width="1.4" fill="none"/>
<path d="M720.5,1304.5H725.5M723.0,1302.0V1307.0" stroke="#3a4aa6" stroke-width="1.4" fill="none"/>
<path d="M732.5,1304.5H737.5M735.0,1302.0V1307.0" stroke="#3a4aa6" stroke-width="1.4" fill="none"/>
<polyline points="485.3,1240.2 497.6,1244.3 507.8,1255.5 518.0,1267.8 528.1,1275.9 536.3,1278.0 542.4,1287.1 552.6,1294.3 568.9,1300.4 577.1,1308.5 589.3,1324.8 597.5,1332.0 603.6,1333.0 609.7,1345.2 617.0,1349.3 627.2,1354.4 633.3,1358.5" fill="none" stroke="#30b04c" stroke-width="2.2" stroke-linejoin="round" stroke-linecap="butt" opacity="1"/>
<path d="M484.9,1241.3h5.2M487.5,1238.7v5.2M487.9,1241.5h5.2M490.5,1238.9v5.2M490.8,1243.3h5.2M493.4,1240.7v5.2M492.1,1243.5h5.2M494.7,1240.9v5.2M495.0,1243.7h5.2M497.6,1241.1v5.2M497.3,1246.5h5.2M499.9,1243.9v5.2M497.8,1247.9h5.2M500.4,1245.3v5.2M500.0,1250.7h5.2M502.6,1248.1v5.2M502.3,1252.0h5.2M504.9,1249.4v5.2M504.5,1253.3h5.2M507.1,1250.7v5.2M505.0,1256.2h5.2M507.6,1253.6v5.2M507.2,1257.6h5.2M509.8,1255.0v5.2M509.3,1260.5h5.2M511.9,1257.9v5.2M509.7,1261.9h5.2M512.3,1259.3v5.2M511.9,1263.3h5.2M514.5,1260.7v5.2M514.1,1266.2h5.2M516.7,1263.6v5.2M516.2,1267.6h5.2M518.8,1265.0v5.2M517.0,1270.1h5.2M519.6,1267.5v5.2M519.5,1271.1h5.2M522.1,1268.5v5.2M522.1,1272.1h5.2M524.7,1269.5v5.2M522.8,1274.7h5.2M525.4,1272.1v5.2M525.4,1275.6h5.2M528.0,1273.0v5.2M528.4,1277.2h5.2M531.0,1274.6v5.2M531.4,1277.2h5.2M534.0,1274.6v5.2M532.7,1277.3h5.2M535.3,1274.7v5.2M534.9,1280.0h5.2M537.5,1277.4v5.2M536.8,1281.6h5.2M539.4,1279.0v5.2M537.0,1284.7h5.2M539.6,1282.1v5.2M539.0,1286.2h5.2M541.6,1283.6v5.2M541.3,1287.4h5.2M543.9,1284.8v5.2M543.9,1289.8h5.2M546.5,1287.2v5.2M544.8,1290.7h5.2M547.4,1288.1v5.2M547.4,1293.1h5.2M550.0,1290.5v5.2M550.1,1294.0h5.2M552.7,1291.4v5.2M551.2,1294.4h5.2M553.8,1291.8v5.2M554.1,1296.2h5.2M556.7,1293.6v5.2M557.0,1296.5h5.2M559.6,1293.9v5.2M560.0,1298.4h5.2M562.6,1295.8v5.2M561.2,1298.7h5.2M563.8,1296.1v5.2M564.1,1299.0h5.2M566.7,1296.4v5.2M567.0,1300.9h5.2M569.6,1298.3v5.2M567.6,1302.1h5.2M570.2,1299.5v5.2M569.9,1304.8h5.2M572.5,1302.2v5.2M572.3,1306.1h5.2M574.9,1303.5v5.2M574.6,1307.3h5.2M577.2,1304.7v5.2M575.0,1310.2h5.2M577.6,1307.6v5.2M577.1,1311.7h5.2M579.7,1309.1v5.2M579.1,1314.6h5.2M581.7,1312.0v5.2M579.5,1316.1h5.2M582.1,1313.5v5.2M581.5,1317.6h5.2M584.1,1315.0v5.2M583.6,1320.6h5.2M586.2,1318.0v5.2M585.6,1322.1h5.2M588.2,1319.5v5.2M585.9,1325.1h5.2M588.5,1322.5v5.2M588.3,1326.2h5.2M590.9,1323.6v5.2M590.8,1327.3h5.2M593.4,1324.7v5.2M591.5,1330.0h5.2M594.1,1327.4v5.2M593.9,1331.1h5.2M596.5,1328.5v5.2M596.8,1332.9h5.2M599.4,1330.3v5.2M599.8,1332.7h5.2M602.4,1330.1v5.2M600.8,1333.0h5.2M603.4,1330.4v5.2M602.5,1336.2h5.2M605.1,1333.6v5.2M604.1,1338.0h5.2M606.7,1335.4v5.2M604.0,1341.2h5.2M606.6,1338.6v5.2M605.7,1342.9h5.2M608.3,1340.3v5.2M607.4,1344.6h5.2M610.0,1342.0v5.2M610.1,1346.8h5.2M612.7,1344.2v5.2M611.2,1347.5h5.2M613.8,1344.9v5.2M613.9,1349.6h5.2M616.5,1347.0v5.2M616.7,1350.2h5.2M619.3,1347.6v5.2M617.8,1350.8h5.2M620.4,1348.2v5.2M620.6,1352.8h5.2M623.2,1350.2v5.2M623.5,1353.4h5.2M626.1,1350.8v5.2M626.2,1355.6h5.2M628.8,1353.0v5.2M627.1,1356.4h5.2M629.7,1353.8v5.2M629.8,1357.3h5.2M632.4,1354.7v5.2" stroke="#2a9e48" stroke-width="1.5" fill="none"/>
<polyline points="633.3,1358.5 637.4,1365.6 716.9,1365.6" fill="none" stroke="#30b04c" stroke-width="1.4" stroke-linejoin="round" stroke-linecap="butt" opacity="1"/>
<path d="M637.5,1365.6H642.5M640.0,1363.1V1368.1" stroke="#30b04c" stroke-width="1.4" fill="none"/>
<path d="M642.5,1365.6H647.5M645.0,1363.1V1368.1" stroke="#30b04c" stroke-width="1.4" fill="none"/>
<path d="M645.5,1365.6H650.5M648.0,1363.1V1368.1" stroke="#30b04c" stroke-width="1.4" fill="none"/>
<path d="M647.5,1365.6H652.5M650.0,1363.1V1368.1" stroke="#30b04c" stroke-width="1.4" fill="none"/>
<path d="M650.5,1365.6H655.5M653.0,1363.1V1368.1" stroke="#30b04c" stroke-width="1.4" fill="none"/>
<path d="M654.5,1365.6H659.5M657.0,1363.1V1368.1" stroke="#30b04c" stroke-width="1.4" fill="none"/>
<path d="M657.5,1365.6H662.5M660.0,1363.1V1368.1" stroke="#30b04c" stroke-width="1.4" fill="none"/>
<path d="M673.5,1365.6H678.5M676.0,1363.1V1368.1" stroke="#30b04c" stroke-width="1.4" fill="none"/>
<path d="M679.5,1365.6H684.5M682.0,1363.1V1368.1" stroke="#30b04c" stroke-width="1.4" fill="none"/>
<path d="M683.5,1365.6H688.5M686.0,1363.1V1368.1" stroke="#30b04c" stroke-width="1.4" fill="none"/>
<path d="M713.5,1365.6H718.5M716.0,1363.1V1368.1" stroke="#30b04c" stroke-width="1.4" fill="none"/>
<polyline points="491.5,1245.3 495.5,1253.5 499.6,1256.6 507.8,1265.7 517.0,1267.8 520.0,1278.0 528.1,1280.0 529.2,1303.4 547.5,1303.4 548.5,1317.7 575.0,1317.7 576.0,1332.0 583.2,1332.0 584.2,1346.2 608.7,1346.2 609.7,1362.5 615.4,1362.5 616.8,1380.7 730.1,1380.7" fill="none" stroke="#d8d4b2" stroke-width="1.2" stroke-linejoin="round" stroke-linecap="butt" opacity="1"/>
<path d="M491.0,1248.3h3.2M492.6,1246.7v3.2M492.8,1250.4h3.2M494.4,1248.8v3.2M494.6,1254.0h3.2M496.2,1252.4v3.2M495.7,1255.2h3.2M497.3,1253.6v3.2M498.5,1256.5h3.2M500.1,1254.9v3.2M501.0,1259.7h3.2M502.6,1258.1v3.2M501.8,1261.3h3.2M503.4,1259.7v3.2M504.3,1264.4h3.2M505.9,1262.8v3.2M506.9,1265.8h3.2M508.5,1264.2v3.2M510.3,1265.9h3.2M511.9,1264.3v3.2M512.0,1267.4h3.2M513.6,1265.8v3.2M515.4,1267.5h3.2M517.0,1265.9v3.2M516.8,1271.3h3.2M518.4,1269.7v3.2M516.4,1273.6h3.2M518.0,1272.0v3.2M517.7,1275.9h3.2M519.3,1274.3v3.2M520.0,1278.6h3.2M521.6,1277.0v3.2M523.4,1278.8h3.2M525.0,1277.2v3.2M525.1,1280.4h3.2M526.7,1278.8v3.2" stroke="#d8d4b2" stroke-width="0.9" fill="none"/>
<path d="M622.5,1380.7H627.5M625.0,1378.2V1383.2" stroke="#d8d4b2" stroke-width="1.4" fill="none"/>
<path d="M627.5,1380.7H632.5M630.0,1378.2V1383.2" stroke="#d8d4b2" stroke-width="1.4" fill="none"/>
<path d="M638.5,1380.7H643.5M641.0,1378.2V1383.2" stroke="#d8d4b2" stroke-width="1.4" fill="none"/>
<path d="M642.5,1380.7H647.5M645.0,1378.2V1383.2" stroke="#d8d4b2" stroke-width="1.4" fill="none"/>
<path d="M655.5,1380.7H660.5M658.0,1378.2V1383.2" stroke="#d8d4b2" stroke-width="1.4" fill="none"/>
<path d="M697.5,1380.7H702.5M700.0,1378.2V1383.2" stroke="#d8d4b2" stroke-width="1.4" fill="none"/>
<path d="M726.5,1380.7H731.5M729.0,1378.2V1383.2" stroke="#d8d4b2" stroke-width="1.4" fill="none"/>
<rect x="466.30" y="1225.40" width="309.30" height="288.10" fill="none" stroke="#4a4a4a" stroke-width="1.6"/>
<line x1="481.80" y1="1513.50" x2="481.80" y2="1525.70" stroke="#4a4a4a" stroke-width="1.6"/>
<text transform="translate(476.99,1542.90) scale(0.17321,0.17857)" font-size="100" font-weight="bold" fill="#111" stroke="#111" stroke-width="1.99">0</text>
<line x1="528.15" y1="1513.50" x2="528.15" y2="1525.70" stroke="#4a4a4a" stroke-width="1.6"/>
<text transform="translate(523.39,1542.90) scale(0.17321,0.17857)" font-size="100" font-weight="bold" fill="#111" stroke="#111" stroke-width="1.99">2</text>
<line x1="574.50" y1="1513.50" x2="574.50" y2="1525.70" stroke="#4a4a4a" stroke-width="1.6"/>
<text transform="translate(569.61,1542.90) scale(0.17321,0.17857)" font-size="100" font-weight="bold" fill="#111" stroke="#111" stroke-width="1.99">4</text>
<line x1="620.85" y1="1513.50" x2="620.85" y2="1525.70" stroke="#4a4a4a" stroke-width="1.6"/>
<text transform="translate(616.04,1542.90) scale(0.17321,0.17857)" font-size="100" font-weight="bold" fill="#111" stroke="#111" stroke-width="1.99">6</text>
<line x1="667.20" y1="1513.50" x2="667.20" y2="1525.70" stroke="#4a4a4a" stroke-width="1.6"/>
<text transform="translate(662.39,1542.90) scale(0.17321,0.17857)" font-size="100" font-weight="bold" fill="#111" stroke="#111" stroke-width="1.99">8</text>
<line x1="713.55" y1="1513.50" x2="713.55" y2="1525.70" stroke="#4a4a4a" stroke-width="1.6"/>
<text transform="translate(703.76,1542.90) scale(0.17321,0.17857)" font-size="100" font-weight="bold" fill="#111" stroke="#111" stroke-width="1.99">10</text>
<line x1="759.90" y1="1513.50" x2="759.90" y2="1525.70" stroke="#4a4a4a" stroke-width="1.6"/>
<text transform="translate(750.11,1542.90) scale(0.17321,0.17857)" font-size="100" font-weight="bold" fill="#111" stroke="#111" stroke-width="1.99">12</text>
<line x1="454.10" y1="1499.20" x2="466.30" y2="1499.20" stroke="#4a4a4a" stroke-width="1.6"/>
<text transform="translate(428.75,1507.30) scale(0.18186,0.19143)" font-size="100" font-weight="bold" fill="#111" stroke="#111" stroke-width="1.88">0.0</text>
<line x1="454.10" y1="1447.30" x2="466.30" y2="1447.30" stroke="#4a4a4a" stroke-width="1.6"/>
<text transform="translate(428.75,1455.40) scale(0.18186,0.19143)" font-size="100" font-weight="bold" fill="#111" stroke="#111" stroke-width="1.88">0.2</text>
<line x1="454.10" y1="1395.40" x2="466.30" y2="1395.40" stroke="#4a4a4a" stroke-width="1.6"/>
<text transform="translate(428.11,1403.50) scale(0.18186,0.19143)" font-size="100" font-weight="bold" fill="#111" stroke="#111" stroke-width="1.88">0.4</text>
<line x1="454.10" y1="1343.50" x2="466.30" y2="1343.50" stroke="#4a4a4a" stroke-width="1.6"/>
<text transform="translate(428.66,1351.60) scale(0.18186,0.19143)" font-size="100" font-weight="bold" fill="#111" stroke="#111" stroke-width="1.88">0.6</text>
<line x1="454.10" y1="1291.60" x2="466.30" y2="1291.60" stroke="#4a4a4a" stroke-width="1.6"/>
<text transform="translate(428.57,1299.70) scale(0.18186,0.19143)" font-size="100" font-weight="bold" fill="#111" stroke="#111" stroke-width="1.88">0.8</text>
<line x1="454.10" y1="1239.70" x2="466.30" y2="1239.70" stroke="#4a4a4a" stroke-width="1.6"/>
<text transform="translate(428.75,1247.80) scale(0.18186,0.19143)" font-size="100" font-weight="bold" fill="#111" stroke="#111" stroke-width="1.88">1.0</text>
<text transform="translate(416.90,1479.35) rotate(-90) scale(0.18749,0.19862)" font-size="100" font-weight="bold" fill="#111" stroke="#111" stroke-width="1.81">CVD cumulative Survival</text>
<text transform="translate(515.72,1571.20) scale(0.18397,0.17571)" font-size="100" font-weight="bold" fill="#111" stroke="#111" stroke-width="1.95">Time of follow-up(years)</text>
<text transform="translate(402.81,1211.40) scale(0.30588,0.31449)" font-size="100" font-weight="bold" fill="#000" stroke="#000" stroke-width="1.13">F</text>
<text transform="translate(631.14,1262.70) scale(0.17828,0.16714)" font-size="100" font-weight="bold" fill="#111" stroke="#111" stroke-width="2.03">PI=0</text>
<text transform="translate(604.45,1325.90) scale(0.17744,0.17571)" font-size="100" font-weight="bold" fill="#111" stroke="#111" stroke-width="1.98">PI=1</text>
<text transform="translate(534.11,1355.00) scale(0.18232,0.16857)" font-size="100" font-weight="bold" fill="#111" stroke="#111" stroke-width="1.99">PI=2</text>
<text transform="translate(500.47,1460.80) scale(0.18873,0.17826)" font-size="100" font-weight="bold" fill="#111" stroke="#111" stroke-width="1.91">Log-rank test,</text>
<text transform="translate(524.90,1485.20) scale(0.18388,0.17101)" font-size="100" font-weight="bold" fill="#111" stroke="#111" stroke-width="1.97">P&lt;0.001</text>
<text transform="translate(248.01,421.00) scale(0.22861,0.22899)" font-size="100" font-weight="bold" fill="#111" stroke="#111" stroke-width="1.53">Number of patients at risk</text>
<line x1="177.00" y1="427.60" x2="602.00" y2="427.60" stroke="#151515" stroke-width="1.8"/>
<text transform="translate(385.10,449.20) scale(0.20012,0.20000)" font-size="100" font-weight="bold" fill="#111" stroke="#111" stroke-width="1.75">years of follow-up</text>
<text transform="translate(319.64,480.40) scale(0.19329,0.17571)" font-size="100" font-weight="bold" fill="#111" stroke="#111" stroke-width="1.90">0</text>
<text transform="translate(374.08,480.40) scale(0.19329,0.17571)" font-size="100" font-weight="bold" fill="#111" stroke="#111" stroke-width="1.90">2</text>
<text transform="translate(428.54,480.40) scale(0.19329,0.17571)" font-size="100" font-weight="bold" fill="#111" stroke="#111" stroke-width="1.90">4</text>
<text transform="translate(482.64,480.40) scale(0.19329,0.17571)" font-size="100" font-weight="bold" fill="#111" stroke="#111" stroke-width="1.90">6</text>
<text transform="translate(530.64,480.40) scale(0.19329,0.17571)" font-size="100" font-weight="bold" fill="#111" stroke="#111" stroke-width="1.90">8</text>
<text transform="translate(569.08,480.40) scale(0.19329,0.17571)" font-size="100" font-weight="bold" fill="#111" stroke="#111" stroke-width="1.90">10</text>
<line x1="177.00" y1="488.00" x2="602.00" y2="488.00" stroke="#151515" stroke-width="1.8"/>
<text transform="translate(191.19,510.80) scale(0.20147,0.18000)" font-size="100" font-weight="bold" fill="#111" stroke="#111" stroke-width="1.83">GPS</text>
<text transform="translate(267.51,511.60) scale(0.19800,0.18000)" font-size="100" font-weight="bold" fill="#111" stroke="#111" stroke-width="1.85">0</text>
<text transform="translate(308.52,511.60) scale(0.19800,0.18000)" font-size="100" font-weight="bold" fill="#111" stroke="#111" stroke-width="1.85">909</text>
<text transform="translate(362.92,511.60) scale(0.19800,0.18000)" font-size="100" font-weight="bold" fill="#111" stroke="#111" stroke-width="1.85">679</text>
<text transform="translate(417.62,511.60) scale(0.19800,0.18000)" font-size="100" font-weight="bold" fill="#111" stroke="#111" stroke-width="1.85">359</text>
<text transform="translate(471.32,511.60) scale(0.19800,0.18000)" font-size="100" font-weight="bold" fill="#111" stroke="#111" stroke-width="1.85">172</text>
<text transform="translate(525.01,511.60) scale(0.19800,0.18000)" font-size="100" font-weight="bold" fill="#111" stroke="#111" stroke-width="1.85">63</text>
<text transform="translate(574.60,511.60) scale(0.19800,0.18000)" font-size="100" font-weight="bold" fill="#111" stroke="#111" stroke-width="1.85">3</text>
<text transform="translate(266.93,540.60) scale(0.20586,0.18714)" font-size="100" font-weight="bold" fill="#111" stroke="#111" stroke-width="1.78">1</text>
<text transform="translate(308.07,540.60) scale(0.20586,0.18714)" font-size="100" font-weight="bold" fill="#111" stroke="#111" stroke-width="1.78">456</text>
<text transform="translate(362.26,540.60) scale(0.20586,0.18714)" font-size="100" font-weight="bold" fill="#111" stroke="#111" stroke-width="1.78">321</text>
<text transform="translate(416.61,540.60) scale(0.20586,0.18714)" font-size="100" font-weight="bold" fill="#111" stroke="#111" stroke-width="1.78">179</text>
<text transform="translate(476.57,540.60) scale(0.20586,0.18714)" font-size="100" font-weight="bold" fill="#111" stroke="#111" stroke-width="1.78">77</text>
<text transform="translate(524.01,540.60) scale(0.20586,0.18714)" font-size="100" font-weight="bold" fill="#111" stroke="#111" stroke-width="1.78">14</text>
<text transform="translate(573.93,540.60) scale(0.20586,0.18714)" font-size="100" font-weight="bold" fill="#111" stroke="#111" stroke-width="1.78">1</text>
<text transform="translate(267.21,570.20) scale(0.21057,0.19143)" font-size="100" font-weight="bold" fill="#111" stroke="#111" stroke-width="1.74">2</text>
<text transform="translate(307.21,570.20) scale(0.21057,0.19143)" font-size="100" font-weight="bold" fill="#111" stroke="#111" stroke-width="1.74">136</text>
<text transform="translate(367.56,570.20) scale(0.21057,0.19143)" font-size="100" font-weight="bold" fill="#111" stroke="#111" stroke-width="1.74">75</text>
<text transform="translate(422.58,570.20) scale(0.21057,0.19143)" font-size="100" font-weight="bold" fill="#111" stroke="#111" stroke-width="1.74">40</text>
<text transform="translate(476.05,570.20) scale(0.21057,0.19143)" font-size="100" font-weight="bold" fill="#111" stroke="#111" stroke-width="1.74">13</text>
<text transform="translate(530.21,570.20) scale(0.21057,0.19143)" font-size="100" font-weight="bold" fill="#111" stroke="#111" stroke-width="1.74">2</text>
<text transform="translate(574.16,570.20) scale(0.21057,0.19143)" font-size="100" font-weight="bold" fill="#111" stroke="#111" stroke-width="1.74">0</text>
<line x1="177.00" y1="578.20" x2="602.00" y2="578.20" stroke="#151515" stroke-width="1.8"/>
<text transform="translate(247.91,1027.80) scale(0.22869,0.22464)" font-size="100" font-weight="bold" fill="#111" stroke="#111" stroke-width="1.54">Number of patients at risk</text>
<line x1="173.00" y1="1035.20" x2="606.00" y2="1035.20" stroke="#151515" stroke-width="1.8"/>
<text transform="translate(373.70,1058.60) scale(0.20118,0.20138)" font-size="100" font-weight="bold" fill="#111" stroke="#111" stroke-width="1.74">years of follow-up</text>
<text transform="translate(319.51,1087.30) scale(0.19800,0.18000)" font-size="100" font-weight="bold" fill="#111" stroke="#111" stroke-width="1.85">0</text>
<text transform="translate(374.06,1087.30) scale(0.19800,0.18000)" font-size="100" font-weight="bold" fill="#111" stroke="#111" stroke-width="1.85">2</text>
<text transform="translate(428.11,1087.30) scale(0.19800,0.18000)" font-size="100" font-weight="bold" fill="#111" stroke="#111" stroke-width="1.85">4</text>
<text transform="translate(482.21,1087.30) scale(0.19800,0.18000)" font-size="100" font-weight="bold" fill="#111" stroke="#111" stroke-width="1.85">6</text>
<text transform="translate(531.51,1087.30) scale(0.19800,0.18000)" font-size="100" font-weight="bold" fill="#111" stroke="#111" stroke-width="1.85">8</text>
<text transform="translate(571.81,1087.30) scale(0.19800,0.18000)" font-size="100" font-weight="bold" fill="#111" stroke="#111" stroke-width="1.85">10</text>
<line x1="173.00" y1="1095.20" x2="606.00" y2="1095.20" stroke="#151515" stroke-width="1.8"/>
<text transform="translate(200.57,1118.00) scale(0.20391,0.19143)" font-size="100" font-weight="bold" fill="#111" stroke="#111" stroke-width="1.77">PNI</text>
<text transform="translate(269.16,1118.00) scale(0.21057,0.19143)" font-size="100" font-weight="bold" fill="#111" stroke="#111" stroke-width="1.74">0</text>
<text transform="translate(307.15,1118.00) scale(0.21057,0.19143)" font-size="100" font-weight="bold" fill="#111" stroke="#111" stroke-width="1.74">604</text>
<text transform="translate(362.18,1118.00) scale(0.21057,0.19143)" font-size="100" font-weight="bold" fill="#111" stroke="#111" stroke-width="1.74">436</text>
<text transform="translate(415.85,1118.00) scale(0.21057,0.19143)" font-size="100" font-weight="bold" fill="#111" stroke="#111" stroke-width="1.74">234</text>
<text transform="translate(469.96,1118.00) scale(0.21057,0.19143)" font-size="100" font-weight="bold" fill="#111" stroke="#111" stroke-width="1.74">107</text>
<text transform="translate(525.47,1118.00) scale(0.21057,0.19143)" font-size="100" font-weight="bold" fill="#111" stroke="#111" stroke-width="1.74">32</text>
<text transform="translate(577.21,1118.00) scale(0.21057,0.19143)" font-size="100" font-weight="bold" fill="#111" stroke="#111" stroke-width="1.74">2</text>
<text transform="translate(268.88,1148.00) scale(0.20743,0.18857)" font-size="100" font-weight="bold" fill="#111" stroke="#111" stroke-width="1.77">1</text>
<text transform="translate(307.84,1148.00) scale(0.20743,0.18857)" font-size="100" font-weight="bold" fill="#111" stroke="#111" stroke-width="1.77">897</text>
<text transform="translate(362.23,1148.00) scale(0.20743,0.18857)" font-size="100" font-weight="bold" fill="#111" stroke="#111" stroke-width="1.77">639</text>
<text transform="translate(416.22,1148.00) scale(0.20743,0.18857)" font-size="100" font-weight="bold" fill="#111" stroke="#111" stroke-width="1.77">344</text>
<text transform="translate(470.07,1148.00) scale(0.20743,0.18857)" font-size="100" font-weight="bold" fill="#111" stroke="#111" stroke-width="1.77">155</text>
<text transform="translate(525.75,1148.00) scale(0.20743,0.18857)" font-size="100" font-weight="bold" fill="#111" stroke="#111" stroke-width="1.77">47</text>
<text transform="translate(577.30,1148.00) scale(0.20743,0.18857)" font-size="100" font-weight="bold" fill="#111" stroke="#111" stroke-width="1.77">2</text>
<line x1="172.30" y1="1155.30" x2="606.00" y2="1155.30" stroke="#151515" stroke-width="1.8"/>
<text transform="translate(243.71,1618.10) scale(0.22852,0.23333)" font-size="100" font-weight="bold" fill="#111" stroke="#111" stroke-width="1.52">Number of patients at risk</text>
<line x1="162.00" y1="1624.80" x2="608.00" y2="1624.80" stroke="#151515" stroke-width="1.8"/>
<text transform="translate(393.00,1646.80) scale(0.20082,0.20000)" font-size="100" font-weight="bold" fill="#111" stroke="#111" stroke-width="1.75">years of follow-up</text>
<text transform="translate(321.01,1677.60) scale(0.19800,0.18000)" font-size="100" font-weight="bold" fill="#111" stroke="#111" stroke-width="1.85">0</text>
<text transform="translate(379.56,1677.60) scale(0.19800,0.18000)" font-size="100" font-weight="bold" fill="#111" stroke="#111" stroke-width="1.85">2</text>
<text transform="translate(434.61,1677.60) scale(0.19800,0.18000)" font-size="100" font-weight="bold" fill="#111" stroke="#111" stroke-width="1.85">4</text>
<text transform="translate(488.71,1677.60) scale(0.19800,0.18000)" font-size="100" font-weight="bold" fill="#111" stroke="#111" stroke-width="1.85">6</text>
<text transform="translate(537.31,1677.60) scale(0.19800,0.18000)" font-size="100" font-weight="bold" fill="#111" stroke="#111" stroke-width="1.85">8</text>
<text transform="translate(574.41,1677.60) scale(0.19800,0.18000)" font-size="100" font-weight="bold" fill="#111" stroke="#111" stroke-width="1.85">10</text>
<line x1="162.00" y1="1685.00" x2="608.00" y2="1685.00" stroke="#151515" stroke-width="1.8"/>
<text transform="translate(196.02,1707.70) scale(0.21235,0.17714)" font-size="100" font-weight="bold" fill="#111" stroke="#111" stroke-width="1.80">PI</text>
<text transform="translate(255.06,1708.00) scale(0.19957,0.18143)" font-size="100" font-weight="bold" fill="#111" stroke="#111" stroke-width="1.84">0</text>
<text transform="translate(304.05,1708.00) scale(0.19957,0.18143)" font-size="100" font-weight="bold" fill="#111" stroke="#111" stroke-width="1.84">1213</text>
<text transform="translate(368.44,1708.00) scale(0.19957,0.18143)" font-size="100" font-weight="bold" fill="#111" stroke="#111" stroke-width="1.84">902</text>
<text transform="translate(423.84,1708.00) scale(0.19957,0.18143)" font-size="100" font-weight="bold" fill="#111" stroke="#111" stroke-width="1.84">472</text>
<text transform="translate(477.59,1708.00) scale(0.19957,0.18143)" font-size="100" font-weight="bold" fill="#111" stroke="#111" stroke-width="1.84">219</text>
<text transform="translate(531.72,1708.00) scale(0.19957,0.18143)" font-size="100" font-weight="bold" fill="#111" stroke="#111" stroke-width="1.84">69</text>
<text transform="translate(580.16,1708.00) scale(0.19957,0.18143)" font-size="100" font-weight="bold" fill="#111" stroke="#111" stroke-width="1.84">3</text>
<text transform="translate(254.53,1737.30) scale(0.20586,0.18714)" font-size="100" font-weight="bold" fill="#111" stroke="#111" stroke-width="1.78">1</text>
<text transform="translate(309.36,1737.30) scale(0.20586,0.18714)" font-size="100" font-weight="bold" fill="#111" stroke="#111" stroke-width="1.78">253</text>
<text transform="translate(367.66,1737.30) scale(0.20586,0.18714)" font-size="100" font-weight="bold" fill="#111" stroke="#111" stroke-width="1.78">157</text>
<text transform="translate(428.47,1737.30) scale(0.20586,0.18714)" font-size="100" font-weight="bold" fill="#111" stroke="#111" stroke-width="1.78">94</text>
<text transform="translate(482.93,1737.30) scale(0.20586,0.18714)" font-size="100" font-weight="bold" fill="#111" stroke="#111" stroke-width="1.78">37</text>
<text transform="translate(537.09,1737.30) scale(0.20586,0.18714)" font-size="100" font-weight="bold" fill="#111" stroke="#111" stroke-width="1.78">8</text>
<text transform="translate(579.89,1737.30) scale(0.20586,0.18714)" font-size="100" font-weight="bold" fill="#111" stroke="#111" stroke-width="1.78">0</text>
<text transform="translate(254.77,1767.00) scale(0.21214,0.19286)" font-size="100" font-weight="bold" fill="#111" stroke="#111" stroke-width="1.73">2</text>
<text transform="translate(314.73,1767.00) scale(0.21214,0.19286)" font-size="100" font-weight="bold" fill="#111" stroke="#111" stroke-width="1.73">35</text>
<text transform="translate(372.96,1767.00) scale(0.21214,0.19286)" font-size="100" font-weight="bold" fill="#111" stroke="#111" stroke-width="1.73">16</text>
<text transform="translate(428.21,1767.00) scale(0.21214,0.19286)" font-size="100" font-weight="bold" fill="#111" stroke="#111" stroke-width="1.73">12</text>
<text transform="translate(488.31,1767.00) scale(0.21214,0.19286)" font-size="100" font-weight="bold" fill="#111" stroke="#111" stroke-width="1.73">6</text>
<text transform="translate(536.97,1767.00) scale(0.21214,0.19286)" font-size="100" font-weight="bold" fill="#111" stroke="#111" stroke-width="1.73">2</text>
<text transform="translate(579.34,1767.00) scale(0.21214,0.19286)" font-size="100" font-weight="bold" fill="#111" stroke="#111" stroke-width="1.73">1</text>
<line x1="162.00" y1="1775.30" x2="608.00" y2="1775.30" stroke="#151515" stroke-width="1.8"/>
</g>
</svg></body></html>
